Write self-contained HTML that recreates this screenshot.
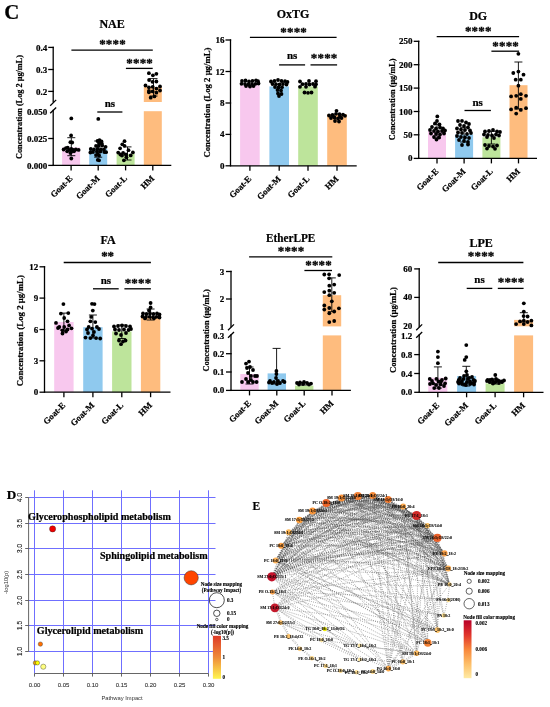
<!DOCTYPE html><html><head><meta charset="utf-8"><style>html,body{margin:0;padding:0;background:#fff;}svg{display:block;}</style></head><body>
<svg width="550" height="707" viewBox="0 0 550 707">
<rect width="550" height="707" fill="#fff"/>
<text x="11.65" y="18.60" font-size="20.8" text-anchor="middle" font-weight="bold" font-family='"Liberation Serif", "Times New Roman", serif' fill="#000" stroke="#000" stroke-width="0.22" >C</text>
<rect x="62.10" y="147.50" width="18.00" height="17.90" fill="#F8C8EE" />
<rect x="89.20" y="148.50" width="18.00" height="16.90" fill="#8FC9EE" />
<rect x="116.60" y="154.00" width="18.00" height="11.40" fill="#BDE49B" />
<rect x="143.80" y="87.00" width="18.00" height="15.00" fill="#FEBC7E" />
<rect x="143.80" y="111.20" width="18.00" height="54.20" fill="#FEBC7E" />
<line x1="71.30" y1="137.70" x2="71.30" y2="155.70" stroke="#000" stroke-width="0.9" />
<line x1="67.30" y1="137.70" x2="75.30" y2="137.70" stroke="#000" stroke-width="0.9" />
<line x1="67.30" y1="155.70" x2="75.30" y2="155.70" stroke="#000" stroke-width="0.9" />
<line x1="98.20" y1="141.00" x2="98.20" y2="157.20" stroke="#000" stroke-width="0.9" />
<line x1="94.20" y1="141.00" x2="102.20" y2="141.00" stroke="#000" stroke-width="0.9" />
<line x1="94.20" y1="157.20" x2="102.20" y2="157.20" stroke="#000" stroke-width="0.9" />
<line x1="127.50" y1="146.90" x2="127.50" y2="160.00" stroke="#000" stroke-width="0.9" />
<line x1="123.50" y1="146.90" x2="131.50" y2="146.90" stroke="#000" stroke-width="0.9" />
<line x1="123.50" y1="160.00" x2="131.50" y2="160.00" stroke="#000" stroke-width="0.9" />
<line x1="153.50" y1="78.60" x2="153.50" y2="96.00" stroke="#000" stroke-width="0.9" />
<line x1="149.50" y1="78.60" x2="157.50" y2="78.60" stroke="#000" stroke-width="0.9" />
<line x1="149.50" y1="96.00" x2="157.50" y2="96.00" stroke="#000" stroke-width="0.9" />
<circle cx="71.30" cy="118.40" r="1.9" fill="#000" stroke="none" stroke-width="0"/>
<circle cx="71.10" cy="135.40" r="1.9" fill="#000" stroke="none" stroke-width="0"/>
<circle cx="70.40" cy="142.20" r="1.9" fill="#000" stroke="none" stroke-width="0"/>
<circle cx="72.20" cy="142.50" r="1.9" fill="#000" stroke="none" stroke-width="0"/>
<circle cx="63.60" cy="149.50" r="1.9" fill="#000" stroke="none" stroke-width="0"/>
<circle cx="65.90" cy="148.10" r="1.9" fill="#000" stroke="none" stroke-width="0"/>
<circle cx="67.70" cy="147.70" r="1.9" fill="#000" stroke="none" stroke-width="0"/>
<circle cx="69.00" cy="149.90" r="1.9" fill="#000" stroke="none" stroke-width="0"/>
<circle cx="71.30" cy="149.00" r="1.9" fill="#000" stroke="none" stroke-width="0"/>
<circle cx="73.60" cy="149.90" r="1.9" fill="#000" stroke="none" stroke-width="0"/>
<circle cx="75.90" cy="149.50" r="1.9" fill="#000" stroke="none" stroke-width="0"/>
<circle cx="78.60" cy="149.90" r="1.9" fill="#000" stroke="none" stroke-width="0"/>
<circle cx="67.20" cy="151.30" r="1.9" fill="#000" stroke="none" stroke-width="0"/>
<circle cx="71.30" cy="151.70" r="1.9" fill="#000" stroke="none" stroke-width="0"/>
<circle cx="74.00" cy="151.30" r="1.9" fill="#000" stroke="none" stroke-width="0"/>
<circle cx="70.40" cy="153.10" r="1.9" fill="#000" stroke="none" stroke-width="0"/>
<circle cx="71.30" cy="158.50" r="1.9" fill="#000" stroke="none" stroke-width="0"/>
<circle cx="98.30" cy="118.90" r="1.9" fill="#000" stroke="none" stroke-width="0"/>
<circle cx="97.50" cy="141.00" r="1.9" fill="#000" stroke="none" stroke-width="0"/>
<circle cx="99.50" cy="140.20" r="1.9" fill="#000" stroke="none" stroke-width="0"/>
<circle cx="101.50" cy="141.50" r="1.9" fill="#000" stroke="none" stroke-width="0"/>
<circle cx="101.70" cy="143.30" r="1.9" fill="#000" stroke="none" stroke-width="0"/>
<circle cx="99.10" cy="143.70" r="1.9" fill="#000" stroke="none" stroke-width="0"/>
<circle cx="96.00" cy="145.90" r="1.9" fill="#000" stroke="none" stroke-width="0"/>
<circle cx="98.70" cy="145.90" r="1.9" fill="#000" stroke="none" stroke-width="0"/>
<circle cx="102.20" cy="145.50" r="1.9" fill="#000" stroke="none" stroke-width="0"/>
<circle cx="105.60" cy="146.80" r="1.9" fill="#000" stroke="none" stroke-width="0"/>
<circle cx="90.80" cy="149.00" r="1.9" fill="#000" stroke="none" stroke-width="0"/>
<circle cx="93.90" cy="149.40" r="1.9" fill="#000" stroke="none" stroke-width="0"/>
<circle cx="97.40" cy="149.00" r="1.9" fill="#000" stroke="none" stroke-width="0"/>
<circle cx="100.80" cy="149.40" r="1.9" fill="#000" stroke="none" stroke-width="0"/>
<circle cx="103.90" cy="149.40" r="1.9" fill="#000" stroke="none" stroke-width="0"/>
<circle cx="90.40" cy="152.50" r="1.9" fill="#000" stroke="none" stroke-width="0"/>
<circle cx="93.00" cy="152.00" r="1.9" fill="#000" stroke="none" stroke-width="0"/>
<circle cx="96.90" cy="151.60" r="1.9" fill="#000" stroke="none" stroke-width="0"/>
<circle cx="100.40" cy="151.60" r="1.9" fill="#000" stroke="none" stroke-width="0"/>
<circle cx="104.30" cy="152.00" r="1.9" fill="#000" stroke="none" stroke-width="0"/>
<circle cx="106.10" cy="152.20" r="1.9" fill="#000" stroke="none" stroke-width="0"/>
<circle cx="97.80" cy="154.20" r="1.9" fill="#000" stroke="none" stroke-width="0"/>
<circle cx="96.00" cy="155.10" r="1.9" fill="#000" stroke="none" stroke-width="0"/>
<circle cx="99.10" cy="155.50" r="1.9" fill="#000" stroke="none" stroke-width="0"/>
<circle cx="97.80" cy="159.90" r="1.9" fill="#000" stroke="none" stroke-width="0"/>
<circle cx="99.10" cy="160.30" r="1.9" fill="#000" stroke="none" stroke-width="0"/>
<circle cx="124.50" cy="141.20" r="1.9" fill="#000" stroke="none" stroke-width="0"/>
<circle cx="122.30" cy="144.30" r="1.9" fill="#000" stroke="none" stroke-width="0"/>
<circle cx="124.50" cy="145.80" r="1.9" fill="#000" stroke="none" stroke-width="0"/>
<circle cx="120.10" cy="148.30" r="1.9" fill="#000" stroke="none" stroke-width="0"/>
<circle cx="128.50" cy="150.20" r="1.9" fill="#000" stroke="none" stroke-width="0"/>
<circle cx="118.20" cy="152.60" r="1.9" fill="#000" stroke="none" stroke-width="0"/>
<circle cx="132.90" cy="152.40" r="1.9" fill="#000" stroke="none" stroke-width="0"/>
<circle cx="120.40" cy="154.50" r="1.9" fill="#000" stroke="none" stroke-width="0"/>
<circle cx="123.10" cy="152.90" r="1.9" fill="#000" stroke="none" stroke-width="0"/>
<circle cx="125.80" cy="154.50" r="1.9" fill="#000" stroke="none" stroke-width="0"/>
<circle cx="130.70" cy="155.40" r="1.9" fill="#000" stroke="none" stroke-width="0"/>
<circle cx="126.40" cy="157.30" r="1.9" fill="#000" stroke="none" stroke-width="0"/>
<circle cx="123.90" cy="160.30" r="1.9" fill="#000" stroke="none" stroke-width="0"/>
<circle cx="122.00" cy="155.60" r="1.9" fill="#000" stroke="none" stroke-width="0"/>
<circle cx="148.90" cy="73.20" r="1.9" fill="#000" stroke="none" stroke-width="0"/>
<circle cx="152.90" cy="75.30" r="1.9" fill="#000" stroke="none" stroke-width="0"/>
<circle cx="156.40" cy="73.80" r="1.9" fill="#000" stroke="none" stroke-width="0"/>
<circle cx="149.10" cy="80.00" r="1.9" fill="#000" stroke="none" stroke-width="0"/>
<circle cx="152.50" cy="81.80" r="1.9" fill="#000" stroke="none" stroke-width="0"/>
<circle cx="156.40" cy="81.50" r="1.9" fill="#000" stroke="none" stroke-width="0"/>
<circle cx="145.50" cy="85.50" r="1.9" fill="#000" stroke="none" stroke-width="0"/>
<circle cx="148.90" cy="87.30" r="1.9" fill="#000" stroke="none" stroke-width="0"/>
<circle cx="152.70" cy="86.80" r="1.9" fill="#000" stroke="none" stroke-width="0"/>
<circle cx="160.00" cy="86.40" r="1.9" fill="#000" stroke="none" stroke-width="0"/>
<circle cx="156.40" cy="88.60" r="1.9" fill="#000" stroke="none" stroke-width="0"/>
<circle cx="148.90" cy="90.90" r="1.9" fill="#000" stroke="none" stroke-width="0"/>
<circle cx="152.70" cy="91.40" r="1.9" fill="#000" stroke="none" stroke-width="0"/>
<circle cx="160.00" cy="90.50" r="1.9" fill="#000" stroke="none" stroke-width="0"/>
<circle cx="148.90" cy="92.30" r="1.9" fill="#000" stroke="none" stroke-width="0"/>
<circle cx="156.40" cy="92.70" r="1.9" fill="#000" stroke="none" stroke-width="0"/>
<circle cx="150.70" cy="97.70" r="1.9" fill="#000" stroke="none" stroke-width="0"/>
<circle cx="154.40" cy="96.40" r="1.9" fill="#000" stroke="none" stroke-width="0"/>
<line x1="53.20" y1="46.75" x2="53.20" y2="102.50" stroke="#000" stroke-width="1.3" />
<line x1="53.20" y1="109.75" x2="53.20" y2="165.40" stroke="#000" stroke-width="1.3" />
<line x1="50.20" y1="105.70" x2="56.20" y2="99.90" stroke="#000" stroke-width="1.3" />
<line x1="50.20" y1="113.30" x2="56.20" y2="107.50" stroke="#000" stroke-width="1.3" />
<line x1="48.20" y1="47.40" x2="53.85" y2="47.40" stroke="#000" stroke-width="1.3" />
<text x="47.20" y="51.20" font-size="9.0" text-anchor="end" font-weight="bold" font-family='"Liberation Serif", "Times New Roman", serif' fill="#000" stroke="#000" stroke-width="0.22" >0.4</text>
<line x1="48.20" y1="69.50" x2="53.85" y2="69.50" stroke="#000" stroke-width="1.3" />
<text x="47.20" y="73.30" font-size="9.0" text-anchor="end" font-weight="bold" font-family='"Liberation Serif", "Times New Roman", serif' fill="#000" stroke="#000" stroke-width="0.22" >0.3</text>
<line x1="48.20" y1="91.40" x2="53.85" y2="91.40" stroke="#000" stroke-width="1.3" />
<text x="47.20" y="95.20" font-size="9.0" text-anchor="end" font-weight="bold" font-family='"Liberation Serif", "Times New Roman", serif' fill="#000" stroke="#000" stroke-width="0.22" >0.2</text>
<text x="47.20" y="114.80" font-size="9.0" text-anchor="end" font-weight="bold" font-family='"Liberation Serif", "Times New Roman", serif' fill="#000" stroke="#000" stroke-width="0.22" >0.050</text>
<line x1="48.20" y1="138.50" x2="53.85" y2="138.50" stroke="#000" stroke-width="1.3" />
<text x="47.20" y="142.30" font-size="9.0" text-anchor="end" font-weight="bold" font-family='"Liberation Serif", "Times New Roman", serif' fill="#000" stroke="#000" stroke-width="0.22" >0.025</text>
<line x1="48.20" y1="165.40" x2="53.85" y2="165.40" stroke="#000" stroke-width="1.3" />
<text x="47.20" y="169.20" font-size="9.0" text-anchor="end" font-weight="bold" font-family='"Liberation Serif", "Times New Roman", serif' fill="#000" stroke="#000" stroke-width="0.22" >0.000</text>
<line x1="52.55" y1="165.40" x2="171.30" y2="165.40" stroke="#000" stroke-width="1.3" />
<line x1="71.10" y1="165.40" x2="71.10" y2="170.40" stroke="#000" stroke-width="1.3" />
<line x1="98.20" y1="165.40" x2="98.20" y2="170.40" stroke="#000" stroke-width="1.3" />
<line x1="125.60" y1="165.40" x2="125.60" y2="170.40" stroke="#000" stroke-width="1.3" />
<line x1="152.80" y1="165.40" x2="152.80" y2="170.40" stroke="#000" stroke-width="1.3" />
<text transform="translate(73.10,179.00) rotate(-45)" font-size="8.7" text-anchor="end" font-weight="bold" font-family='"Liberation Serif", "Times New Roman", serif' stroke="#000" stroke-width="0.22">Goat-E</text>
<text transform="translate(100.20,179.00) rotate(-45)" font-size="8.7" text-anchor="end" font-weight="bold" font-family='"Liberation Serif", "Times New Roman", serif' stroke="#000" stroke-width="0.22">Goat-M</text>
<text transform="translate(127.60,179.00) rotate(-45)" font-size="8.7" text-anchor="end" font-weight="bold" font-family='"Liberation Serif", "Times New Roman", serif' stroke="#000" stroke-width="0.22">Goat-L</text>
<text transform="translate(154.80,179.00) rotate(-45)" font-size="8.7" text-anchor="end" font-weight="bold" font-family='"Liberation Serif", "Times New Roman", serif' stroke="#000" stroke-width="0.22">HM</text>
<line x1="71.40" y1="50.10" x2="152.80" y2="50.10" stroke="#000" stroke-width="1.3" />
<text x="112.40" y="47.90" font-size="13.0" text-anchor="middle" font-weight="bold" font-family='"Liberation Serif", "Times New Roman", serif' fill="#000" stroke="#000" stroke-width="0.3" textLength="26.50" lengthAdjust="spacing" >****</text>
<line x1="125.90" y1="68.40" x2="152.70" y2="68.40" stroke="#000" stroke-width="1.3" />
<text x="139.60" y="66.80" font-size="13.0" text-anchor="middle" font-weight="bold" font-family='"Liberation Serif", "Times New Roman", serif' fill="#000" stroke="#000" stroke-width="0.3" textLength="26.50" lengthAdjust="spacing" >****</text>
<line x1="97.30" y1="112.00" x2="122.40" y2="112.00" stroke="#000" stroke-width="1.3" />
<text x="109.85" y="107.20" font-size="11" text-anchor="middle" font-weight="bold" font-family='"Liberation Serif", "Times New Roman", serif' fill="#000" stroke="#000" stroke-width="0.22" >ns</text>
<text x="112.10" y="27.70" font-size="12" text-anchor="middle" font-weight="bold" font-family='"Liberation Serif", "Times New Roman", serif' fill="#000" stroke="#000" stroke-width="0.22" >NAE</text>
<text transform="translate(22.32,107.00) rotate(-90)" font-size="8.4" text-anchor="middle" font-weight="bold" font-family='"Liberation Serif", "Times New Roman", serif' fill="#000" stroke="#000" stroke-width="0.22" textLength="104.00" lengthAdjust="spacingAndGlyphs" >Concentration (Log 2 μg/mL)</text>
<rect x="240.10" y="85.30" width="19.60" height="80.50" fill="#F8C8EE" />
<rect x="269.40" y="86.40" width="19.60" height="79.40" fill="#8FC9EE" />
<rect x="298.20" y="86.40" width="19.60" height="79.40" fill="#BDE49B" />
<rect x="327.20" y="114.20" width="19.60" height="51.60" fill="#FEBC7E" />
<circle cx="242.00" cy="81.00" r="1.9" fill="#000" stroke="none" stroke-width="0"/>
<circle cx="245.50" cy="80.50" r="1.9" fill="#000" stroke="none" stroke-width="0"/>
<circle cx="249.00" cy="81.50" r="1.9" fill="#000" stroke="none" stroke-width="0"/>
<circle cx="252.50" cy="80.80" r="1.9" fill="#000" stroke="none" stroke-width="0"/>
<circle cx="256.00" cy="80.30" r="1.9" fill="#000" stroke="none" stroke-width="0"/>
<circle cx="258.00" cy="81.20" r="1.9" fill="#000" stroke="none" stroke-width="0"/>
<circle cx="241.50" cy="83.80" r="1.9" fill="#000" stroke="none" stroke-width="0"/>
<circle cx="245.00" cy="84.00" r="1.9" fill="#000" stroke="none" stroke-width="0"/>
<circle cx="248.50" cy="84.50" r="1.9" fill="#000" stroke="none" stroke-width="0"/>
<circle cx="252.00" cy="84.00" r="1.9" fill="#000" stroke="none" stroke-width="0"/>
<circle cx="255.50" cy="83.80" r="1.9" fill="#000" stroke="none" stroke-width="0"/>
<circle cx="258.50" cy="83.50" r="1.9" fill="#000" stroke="none" stroke-width="0"/>
<circle cx="250.00" cy="86.50" r="1.9" fill="#000" stroke="none" stroke-width="0"/>
<circle cx="253.50" cy="86.00" r="1.9" fill="#000" stroke="none" stroke-width="0"/>
<circle cx="246.00" cy="86.00" r="1.9" fill="#000" stroke="none" stroke-width="0"/>
<circle cx="271.00" cy="81.50" r="1.9" fill="#000" stroke="none" stroke-width="0"/>
<circle cx="274.50" cy="81.00" r="1.9" fill="#000" stroke="none" stroke-width="0"/>
<circle cx="278.00" cy="80.00" r="1.9" fill="#000" stroke="none" stroke-width="0"/>
<circle cx="281.50" cy="81.00" r="1.9" fill="#000" stroke="none" stroke-width="0"/>
<circle cx="285.00" cy="81.20" r="1.9" fill="#000" stroke="none" stroke-width="0"/>
<circle cx="287.50" cy="82.00" r="1.9" fill="#000" stroke="none" stroke-width="0"/>
<circle cx="272.50" cy="84.00" r="1.9" fill="#000" stroke="none" stroke-width="0"/>
<circle cx="276.00" cy="84.20" r="1.9" fill="#000" stroke="none" stroke-width="0"/>
<circle cx="279.50" cy="84.50" r="1.9" fill="#000" stroke="none" stroke-width="0"/>
<circle cx="283.00" cy="84.00" r="1.9" fill="#000" stroke="none" stroke-width="0"/>
<circle cx="286.50" cy="84.50" r="1.9" fill="#000" stroke="none" stroke-width="0"/>
<circle cx="275.00" cy="87.00" r="1.9" fill="#000" stroke="none" stroke-width="0"/>
<circle cx="278.50" cy="87.50" r="1.9" fill="#000" stroke="none" stroke-width="0"/>
<circle cx="282.00" cy="87.20" r="1.9" fill="#000" stroke="none" stroke-width="0"/>
<circle cx="277.50" cy="90.00" r="1.9" fill="#000" stroke="none" stroke-width="0"/>
<circle cx="281.00" cy="90.50" r="1.9" fill="#000" stroke="none" stroke-width="0"/>
<circle cx="278.00" cy="93.50" r="1.9" fill="#000" stroke="none" stroke-width="0"/>
<circle cx="281.50" cy="94.00" r="1.9" fill="#000" stroke="none" stroke-width="0"/>
<circle cx="279.00" cy="96.00" r="1.9" fill="#000" stroke="none" stroke-width="0"/>
<circle cx="300.00" cy="81.50" r="1.9" fill="#000" stroke="none" stroke-width="0"/>
<circle cx="309.00" cy="81.00" r="1.9" fill="#000" stroke="none" stroke-width="0"/>
<circle cx="316.00" cy="81.20" r="1.9" fill="#000" stroke="none" stroke-width="0"/>
<circle cx="302.50" cy="84.20" r="1.9" fill="#000" stroke="none" stroke-width="0"/>
<circle cx="306.00" cy="84.00" r="1.9" fill="#000" stroke="none" stroke-width="0"/>
<circle cx="309.50" cy="84.50" r="1.9" fill="#000" stroke="none" stroke-width="0"/>
<circle cx="313.00" cy="84.00" r="1.9" fill="#000" stroke="none" stroke-width="0"/>
<circle cx="316.00" cy="84.30" r="1.9" fill="#000" stroke="none" stroke-width="0"/>
<circle cx="300.00" cy="86.80" r="1.9" fill="#000" stroke="none" stroke-width="0"/>
<circle cx="306.00" cy="86.80" r="1.9" fill="#000" stroke="none" stroke-width="0"/>
<circle cx="315.00" cy="86.70" r="1.9" fill="#000" stroke="none" stroke-width="0"/>
<circle cx="304.50" cy="92.50" r="1.9" fill="#000" stroke="none" stroke-width="0"/>
<circle cx="308.00" cy="92.80" r="1.9" fill="#000" stroke="none" stroke-width="0"/>
<circle cx="311.50" cy="92.50" r="1.9" fill="#000" stroke="none" stroke-width="0"/>
<circle cx="329.00" cy="115.50" r="1.9" fill="#000" stroke="none" stroke-width="0"/>
<circle cx="332.50" cy="114.80" r="1.9" fill="#000" stroke="none" stroke-width="0"/>
<circle cx="336.00" cy="113.80" r="1.9" fill="#000" stroke="none" stroke-width="0"/>
<circle cx="339.50" cy="114.20" r="1.9" fill="#000" stroke="none" stroke-width="0"/>
<circle cx="343.00" cy="114.60" r="1.9" fill="#000" stroke="none" stroke-width="0"/>
<circle cx="345.00" cy="115.80" r="1.9" fill="#000" stroke="none" stroke-width="0"/>
<circle cx="331.00" cy="118.00" r="1.9" fill="#000" stroke="none" stroke-width="0"/>
<circle cx="334.50" cy="117.50" r="1.9" fill="#000" stroke="none" stroke-width="0"/>
<circle cx="338.00" cy="118.50" r="1.9" fill="#000" stroke="none" stroke-width="0"/>
<circle cx="341.50" cy="118.00" r="1.9" fill="#000" stroke="none" stroke-width="0"/>
<circle cx="336.50" cy="110.80" r="1.9" fill="#000" stroke="none" stroke-width="0"/>
<circle cx="335.00" cy="121.00" r="1.9" fill="#000" stroke="none" stroke-width="0"/>
<circle cx="339.00" cy="121.50" r="1.9" fill="#000" stroke="none" stroke-width="0"/>
<circle cx="333.00" cy="116.00" r="1.9" fill="#000" stroke="none" stroke-width="0"/>
<circle cx="340.00" cy="116.50" r="1.9" fill="#000" stroke="none" stroke-width="0"/>
<line x1="230.50" y1="39.35" x2="230.50" y2="165.80" stroke="#000" stroke-width="1.3" />
<line x1="225.50" y1="40.00" x2="231.15" y2="40.00" stroke="#000" stroke-width="1.3" />
<text x="224.50" y="43.00" font-size="9.0" text-anchor="end" font-weight="bold" font-family='"Liberation Serif", "Times New Roman", serif' fill="#000" stroke="#000" stroke-width="0.22" >16</text>
<line x1="225.50" y1="71.50" x2="231.15" y2="71.50" stroke="#000" stroke-width="1.3" />
<text x="224.50" y="74.50" font-size="9.0" text-anchor="end" font-weight="bold" font-family='"Liberation Serif", "Times New Roman", serif' fill="#000" stroke="#000" stroke-width="0.22" >12</text>
<line x1="225.50" y1="103.00" x2="231.15" y2="103.00" stroke="#000" stroke-width="1.3" />
<text x="224.50" y="106.00" font-size="9.0" text-anchor="end" font-weight="bold" font-family='"Liberation Serif", "Times New Roman", serif' fill="#000" stroke="#000" stroke-width="0.22" >8</text>
<line x1="225.50" y1="134.40" x2="231.15" y2="134.40" stroke="#000" stroke-width="1.3" />
<text x="224.50" y="137.40" font-size="9.0" text-anchor="end" font-weight="bold" font-family='"Liberation Serif", "Times New Roman", serif' fill="#000" stroke="#000" stroke-width="0.22" >4</text>
<line x1="225.50" y1="165.80" x2="231.15" y2="165.80" stroke="#000" stroke-width="1.3" />
<text x="224.50" y="168.80" font-size="9.0" text-anchor="end" font-weight="bold" font-family='"Liberation Serif", "Times New Roman", serif' fill="#000" stroke="#000" stroke-width="0.22" >0</text>
<line x1="229.85" y1="165.80" x2="356.70" y2="165.80" stroke="#000" stroke-width="1.3" />
<line x1="249.90" y1="165.80" x2="249.90" y2="170.80" stroke="#000" stroke-width="1.3" />
<line x1="279.20" y1="165.80" x2="279.20" y2="170.80" stroke="#000" stroke-width="1.3" />
<line x1="308.00" y1="165.80" x2="308.00" y2="170.80" stroke="#000" stroke-width="1.3" />
<line x1="337.00" y1="165.80" x2="337.00" y2="170.80" stroke="#000" stroke-width="1.3" />
<text transform="translate(251.90,179.40) rotate(-45)" font-size="8.7" text-anchor="end" font-weight="bold" font-family='"Liberation Serif", "Times New Roman", serif' stroke="#000" stroke-width="0.22">Goat-E</text>
<text transform="translate(281.20,179.40) rotate(-45)" font-size="8.7" text-anchor="end" font-weight="bold" font-family='"Liberation Serif", "Times New Roman", serif' stroke="#000" stroke-width="0.22">Goat-M</text>
<text transform="translate(310.00,179.40) rotate(-45)" font-size="8.7" text-anchor="end" font-weight="bold" font-family='"Liberation Serif", "Times New Roman", serif' stroke="#000" stroke-width="0.22">Goat-L</text>
<text transform="translate(339.00,179.40) rotate(-45)" font-size="8.7" text-anchor="end" font-weight="bold" font-family='"Liberation Serif", "Times New Roman", serif' stroke="#000" stroke-width="0.22">HM</text>
<line x1="249.90" y1="37.40" x2="336.60" y2="37.40" stroke="#000" stroke-width="1.3" />
<text x="293.55" y="35.60" font-size="13.0" text-anchor="middle" font-weight="bold" font-family='"Liberation Serif", "Times New Roman", serif' fill="#000" stroke="#000" stroke-width="0.3" textLength="26.50" lengthAdjust="spacing" >****</text>
<line x1="279.10" y1="64.90" x2="305.10" y2="64.90" stroke="#000" stroke-width="1.3" />
<text x="292.10" y="59.10" font-size="11" text-anchor="middle" font-weight="bold" font-family='"Liberation Serif", "Times New Roman", serif' fill="#000" stroke="#000" stroke-width="0.22" >ns</text>
<line x1="310.50" y1="64.90" x2="337.10" y2="64.90" stroke="#000" stroke-width="1.3" />
<text x="324.10" y="61.60" font-size="13.0" text-anchor="middle" font-weight="bold" font-family='"Liberation Serif", "Times New Roman", serif' fill="#000" stroke="#000" stroke-width="0.3" textLength="26.50" lengthAdjust="spacing" >****</text>
<text x="293.10" y="17.60" font-size="12" text-anchor="middle" font-weight="bold" font-family='"Liberation Serif", "Times New Roman", serif' fill="#000" stroke="#000" stroke-width="0.22" >OxTG</text>
<text transform="translate(210.02,102.60) rotate(-90)" font-size="8.4" text-anchor="middle" font-weight="bold" font-family='"Liberation Serif", "Times New Roman", serif' fill="#000" stroke="#000" stroke-width="0.22" textLength="110.00" lengthAdjust="spacingAndGlyphs" >Concentration (Log 2 μg/mL)</text>
<rect x="428.00" y="130.90" width="18.00" height="27.50" fill="#F8C8EE" />
<rect x="455.10" y="134.50" width="18.00" height="23.90" fill="#8FC9EE" />
<rect x="482.40" y="137.30" width="18.00" height="21.10" fill="#BDE49B" />
<rect x="509.50" y="85.20" width="18.00" height="73.20" fill="#FEBC7E" />
<line x1="437.00" y1="124.20" x2="437.00" y2="138.00" stroke="#000" stroke-width="0.9" />
<line x1="433.00" y1="124.20" x2="441.00" y2="124.20" stroke="#000" stroke-width="0.9" />
<line x1="433.00" y1="138.00" x2="441.00" y2="138.00" stroke="#000" stroke-width="0.9" />
<line x1="464.10" y1="127.30" x2="464.10" y2="142.00" stroke="#000" stroke-width="0.9" />
<line x1="460.10" y1="127.30" x2="468.10" y2="127.30" stroke="#000" stroke-width="0.9" />
<line x1="460.10" y1="142.00" x2="468.10" y2="142.00" stroke="#000" stroke-width="0.9" />
<line x1="491.40" y1="131.30" x2="491.40" y2="144.00" stroke="#000" stroke-width="0.9" />
<line x1="487.40" y1="131.30" x2="495.40" y2="131.30" stroke="#000" stroke-width="0.9" />
<line x1="487.40" y1="144.00" x2="495.40" y2="144.00" stroke="#000" stroke-width="0.9" />
<line x1="518.40" y1="62.00" x2="518.40" y2="109.00" stroke="#000" stroke-width="0.9" />
<line x1="514.40" y1="62.00" x2="522.40" y2="62.00" stroke="#000" stroke-width="0.9" />
<line x1="514.40" y1="109.00" x2="522.40" y2="109.00" stroke="#000" stroke-width="0.9" />
<circle cx="437.30" cy="116.40" r="1.9" fill="#000" stroke="none" stroke-width="0"/>
<circle cx="437.00" cy="121.00" r="1.9" fill="#000" stroke="none" stroke-width="0"/>
<circle cx="435.00" cy="123.50" r="1.9" fill="#000" stroke="none" stroke-width="0"/>
<circle cx="439.50" cy="124.50" r="1.9" fill="#000" stroke="none" stroke-width="0"/>
<circle cx="432.00" cy="127.00" r="1.9" fill="#000" stroke="none" stroke-width="0"/>
<circle cx="436.00" cy="128.50" r="1.9" fill="#000" stroke="none" stroke-width="0"/>
<circle cx="440.00" cy="127.50" r="1.9" fill="#000" stroke="none" stroke-width="0"/>
<circle cx="443.00" cy="128.50" r="1.9" fill="#000" stroke="none" stroke-width="0"/>
<circle cx="430.00" cy="130.00" r="1.9" fill="#000" stroke="none" stroke-width="0"/>
<circle cx="434.00" cy="131.00" r="1.9" fill="#000" stroke="none" stroke-width="0"/>
<circle cx="438.00" cy="131.50" r="1.9" fill="#000" stroke="none" stroke-width="0"/>
<circle cx="442.00" cy="131.00" r="1.9" fill="#000" stroke="none" stroke-width="0"/>
<circle cx="445.00" cy="130.50" r="1.9" fill="#000" stroke="none" stroke-width="0"/>
<circle cx="431.00" cy="133.50" r="1.9" fill="#000" stroke="none" stroke-width="0"/>
<circle cx="436.00" cy="134.00" r="1.9" fill="#000" stroke="none" stroke-width="0"/>
<circle cx="440.00" cy="134.50" r="1.9" fill="#000" stroke="none" stroke-width="0"/>
<circle cx="444.00" cy="133.50" r="1.9" fill="#000" stroke="none" stroke-width="0"/>
<circle cx="434.00" cy="137.00" r="1.9" fill="#000" stroke="none" stroke-width="0"/>
<circle cx="439.00" cy="137.50" r="1.9" fill="#000" stroke="none" stroke-width="0"/>
<circle cx="436.50" cy="139.60" r="1.9" fill="#000" stroke="none" stroke-width="0"/>
<circle cx="458.00" cy="121.00" r="1.9" fill="#000" stroke="none" stroke-width="0"/>
<circle cx="462.00" cy="120.90" r="1.9" fill="#000" stroke="none" stroke-width="0"/>
<circle cx="466.00" cy="122.50" r="1.9" fill="#000" stroke="none" stroke-width="0"/>
<circle cx="469.00" cy="124.00" r="1.9" fill="#000" stroke="none" stroke-width="0"/>
<circle cx="460.00" cy="125.00" r="1.9" fill="#000" stroke="none" stroke-width="0"/>
<circle cx="464.00" cy="126.00" r="1.9" fill="#000" stroke="none" stroke-width="0"/>
<circle cx="468.00" cy="127.50" r="1.9" fill="#000" stroke="none" stroke-width="0"/>
<circle cx="457.00" cy="128.50" r="1.9" fill="#000" stroke="none" stroke-width="0"/>
<circle cx="461.00" cy="129.50" r="1.9" fill="#000" stroke="none" stroke-width="0"/>
<circle cx="465.00" cy="130.00" r="1.9" fill="#000" stroke="none" stroke-width="0"/>
<circle cx="470.00" cy="130.50" r="1.9" fill="#000" stroke="none" stroke-width="0"/>
<circle cx="458.00" cy="132.50" r="1.9" fill="#000" stroke="none" stroke-width="0"/>
<circle cx="462.00" cy="133.00" r="1.9" fill="#000" stroke="none" stroke-width="0"/>
<circle cx="467.00" cy="134.00" r="1.9" fill="#000" stroke="none" stroke-width="0"/>
<circle cx="471.00" cy="133.00" r="1.9" fill="#000" stroke="none" stroke-width="0"/>
<circle cx="457.00" cy="136.00" r="1.9" fill="#000" stroke="none" stroke-width="0"/>
<circle cx="461.00" cy="137.00" r="1.9" fill="#000" stroke="none" stroke-width="0"/>
<circle cx="465.00" cy="137.50" r="1.9" fill="#000" stroke="none" stroke-width="0"/>
<circle cx="469.00" cy="138.00" r="1.9" fill="#000" stroke="none" stroke-width="0"/>
<circle cx="459.00" cy="140.00" r="1.9" fill="#000" stroke="none" stroke-width="0"/>
<circle cx="464.00" cy="141.00" r="1.9" fill="#000" stroke="none" stroke-width="0"/>
<circle cx="468.00" cy="142.00" r="1.9" fill="#000" stroke="none" stroke-width="0"/>
<circle cx="462.00" cy="145.00" r="1.9" fill="#000" stroke="none" stroke-width="0"/>
<circle cx="468.00" cy="144.50" r="1.9" fill="#000" stroke="none" stroke-width="0"/>
<circle cx="485.00" cy="131.50" r="1.9" fill="#000" stroke="none" stroke-width="0"/>
<circle cx="489.00" cy="131.00" r="1.9" fill="#000" stroke="none" stroke-width="0"/>
<circle cx="493.00" cy="130.00" r="1.9" fill="#000" stroke="none" stroke-width="0"/>
<circle cx="497.00" cy="131.50" r="1.9" fill="#000" stroke="none" stroke-width="0"/>
<circle cx="500.00" cy="132.00" r="1.9" fill="#000" stroke="none" stroke-width="0"/>
<circle cx="484.00" cy="134.50" r="1.9" fill="#000" stroke="none" stroke-width="0"/>
<circle cx="488.00" cy="135.00" r="1.9" fill="#000" stroke="none" stroke-width="0"/>
<circle cx="492.00" cy="135.50" r="1.9" fill="#000" stroke="none" stroke-width="0"/>
<circle cx="496.00" cy="134.50" r="1.9" fill="#000" stroke="none" stroke-width="0"/>
<circle cx="499.00" cy="135.50" r="1.9" fill="#000" stroke="none" stroke-width="0"/>
<circle cx="487.00" cy="137.00" r="1.9" fill="#000" stroke="none" stroke-width="0"/>
<circle cx="494.00" cy="138.00" r="1.9" fill="#000" stroke="none" stroke-width="0"/>
<circle cx="485.00" cy="145.00" r="1.9" fill="#000" stroke="none" stroke-width="0"/>
<circle cx="489.00" cy="146.00" r="1.9" fill="#000" stroke="none" stroke-width="0"/>
<circle cx="493.00" cy="146.50" r="1.9" fill="#000" stroke="none" stroke-width="0"/>
<circle cx="497.00" cy="145.50" r="1.9" fill="#000" stroke="none" stroke-width="0"/>
<circle cx="487.00" cy="148.60" r="1.9" fill="#000" stroke="none" stroke-width="0"/>
<circle cx="495.00" cy="148.80" r="1.9" fill="#000" stroke="none" stroke-width="0"/>
<circle cx="518.40" cy="53.80" r="1.9" fill="#000" stroke="none" stroke-width="0"/>
<circle cx="513.30" cy="73.00" r="1.9" fill="#000" stroke="none" stroke-width="0"/>
<circle cx="518.40" cy="71.60" r="1.9" fill="#000" stroke="none" stroke-width="0"/>
<circle cx="523.50" cy="74.70" r="1.9" fill="#000" stroke="none" stroke-width="0"/>
<circle cx="515.70" cy="79.70" r="1.9" fill="#000" stroke="none" stroke-width="0"/>
<circle cx="520.80" cy="79.70" r="1.9" fill="#000" stroke="none" stroke-width="0"/>
<circle cx="518.40" cy="85.70" r="1.9" fill="#000" stroke="none" stroke-width="0"/>
<circle cx="511.10" cy="96.40" r="1.9" fill="#000" stroke="none" stroke-width="0"/>
<circle cx="516.20" cy="95.80" r="1.9" fill="#000" stroke="none" stroke-width="0"/>
<circle cx="520.80" cy="94.20" r="1.9" fill="#000" stroke="none" stroke-width="0"/>
<circle cx="526.00" cy="95.80" r="1.9" fill="#000" stroke="none" stroke-width="0"/>
<circle cx="520.80" cy="98.90" r="1.9" fill="#000" stroke="none" stroke-width="0"/>
<circle cx="511.10" cy="109.40" r="1.9" fill="#000" stroke="none" stroke-width="0"/>
<circle cx="516.20" cy="107.70" r="1.9" fill="#000" stroke="none" stroke-width="0"/>
<circle cx="520.80" cy="109.90" r="1.9" fill="#000" stroke="none" stroke-width="0"/>
<circle cx="526.00" cy="108.20" r="1.9" fill="#000" stroke="none" stroke-width="0"/>
<circle cx="516.20" cy="113.60" r="1.9" fill="#000" stroke="none" stroke-width="0"/>
<line x1="418.70" y1="40.65" x2="418.70" y2="158.40" stroke="#000" stroke-width="1.3" />
<line x1="413.70" y1="41.30" x2="419.35" y2="41.30" stroke="#000" stroke-width="1.3" />
<text x="412.40" y="44.30" font-size="9.0" text-anchor="end" font-weight="bold" font-family='"Liberation Serif", "Times New Roman", serif' fill="#000" stroke="#000" stroke-width="0.22" >250</text>
<line x1="413.70" y1="64.70" x2="419.35" y2="64.70" stroke="#000" stroke-width="1.3" />
<text x="412.40" y="67.70" font-size="9.0" text-anchor="end" font-weight="bold" font-family='"Liberation Serif", "Times New Roman", serif' fill="#000" stroke="#000" stroke-width="0.22" >200</text>
<line x1="413.70" y1="88.10" x2="419.35" y2="88.10" stroke="#000" stroke-width="1.3" />
<text x="412.40" y="91.10" font-size="9.0" text-anchor="end" font-weight="bold" font-family='"Liberation Serif", "Times New Roman", serif' fill="#000" stroke="#000" stroke-width="0.22" >150</text>
<line x1="413.70" y1="111.50" x2="419.35" y2="111.50" stroke="#000" stroke-width="1.3" />
<text x="412.40" y="114.50" font-size="9.0" text-anchor="end" font-weight="bold" font-family='"Liberation Serif", "Times New Roman", serif' fill="#000" stroke="#000" stroke-width="0.22" >100</text>
<line x1="413.70" y1="134.80" x2="419.35" y2="134.80" stroke="#000" stroke-width="1.3" />
<text x="412.40" y="137.80" font-size="9.0" text-anchor="end" font-weight="bold" font-family='"Liberation Serif", "Times New Roman", serif' fill="#000" stroke="#000" stroke-width="0.22" >50</text>
<line x1="413.70" y1="158.40" x2="419.35" y2="158.40" stroke="#000" stroke-width="1.3" />
<text x="412.40" y="161.40" font-size="9.0" text-anchor="end" font-weight="bold" font-family='"Liberation Serif", "Times New Roman", serif' fill="#000" stroke="#000" stroke-width="0.22" >0</text>
<line x1="418.05" y1="158.40" x2="537.00" y2="158.40" stroke="#000" stroke-width="1.3" />
<line x1="437.00" y1="158.40" x2="437.00" y2="163.40" stroke="#000" stroke-width="1.3" />
<line x1="464.10" y1="158.40" x2="464.10" y2="163.40" stroke="#000" stroke-width="1.3" />
<line x1="491.40" y1="158.40" x2="491.40" y2="163.40" stroke="#000" stroke-width="1.3" />
<line x1="518.50" y1="158.40" x2="518.50" y2="163.40" stroke="#000" stroke-width="1.3" />
<text transform="translate(439.00,172.00) rotate(-45)" font-size="8.7" text-anchor="end" font-weight="bold" font-family='"Liberation Serif", "Times New Roman", serif' stroke="#000" stroke-width="0.22">Goat-E</text>
<text transform="translate(466.10,172.00) rotate(-45)" font-size="8.7" text-anchor="end" font-weight="bold" font-family='"Liberation Serif", "Times New Roman", serif' stroke="#000" stroke-width="0.22">Goat-M</text>
<text transform="translate(493.40,172.00) rotate(-45)" font-size="8.7" text-anchor="end" font-weight="bold" font-family='"Liberation Serif", "Times New Roman", serif' stroke="#000" stroke-width="0.22">Goat-L</text>
<text transform="translate(520.50,172.00) rotate(-45)" font-size="8.7" text-anchor="end" font-weight="bold" font-family='"Liberation Serif", "Times New Roman", serif' stroke="#000" stroke-width="0.22">HM</text>
<line x1="436.70" y1="36.70" x2="519.10" y2="36.70" stroke="#000" stroke-width="1.3" />
<text x="478.20" y="35.10" font-size="13.0" text-anchor="middle" font-weight="bold" font-family='"Liberation Serif", "Times New Roman", serif' fill="#000" stroke="#000" stroke-width="0.3" textLength="26.50" lengthAdjust="spacing" >****</text>
<line x1="491.40" y1="51.20" x2="519.10" y2="51.20" stroke="#000" stroke-width="1.3" />
<text x="505.55" y="49.60" font-size="13.0" text-anchor="middle" font-weight="bold" font-family='"Liberation Serif", "Times New Roman", serif' fill="#000" stroke="#000" stroke-width="0.3" textLength="26.50" lengthAdjust="spacing" >****</text>
<line x1="464.50" y1="110.50" x2="490.90" y2="110.50" stroke="#000" stroke-width="1.3" />
<text x="477.70" y="105.50" font-size="11" text-anchor="middle" font-weight="bold" font-family='"Liberation Serif", "Times New Roman", serif' fill="#000" stroke="#000" stroke-width="0.22" >ns</text>
<text x="478.20" y="19.70" font-size="12" text-anchor="middle" font-weight="bold" font-family='"Liberation Serif", "Times New Roman", serif' fill="#000" stroke="#000" stroke-width="0.22" >DG</text>
<text transform="translate(395.12,99.30) rotate(-90)" font-size="8.4" text-anchor="middle" font-weight="bold" font-family='"Liberation Serif", "Times New Roman", serif' fill="#000" stroke="#000" stroke-width="0.22" textLength="81.80" lengthAdjust="spacingAndGlyphs" >Concentration (μg/mL)</text>
<rect x="54.20" y="322.00" width="19.40" height="70.20" fill="#F8C8EE" />
<rect x="83.20" y="327.20" width="19.40" height="65.00" fill="#8FC9EE" />
<rect x="112.10" y="331.40" width="19.40" height="60.80" fill="#BDE49B" />
<rect x="140.90" y="316.50" width="19.40" height="75.70" fill="#FEBC7E" />
<line x1="63.90" y1="313.10" x2="63.90" y2="330.00" stroke="#000" stroke-width="0.9" />
<line x1="59.90" y1="313.10" x2="67.90" y2="313.10" stroke="#000" stroke-width="0.9" />
<line x1="59.90" y1="330.00" x2="67.90" y2="330.00" stroke="#000" stroke-width="0.9" />
<line x1="92.90" y1="315.00" x2="92.90" y2="338.00" stroke="#000" stroke-width="0.9" />
<line x1="88.90" y1="315.00" x2="96.90" y2="315.00" stroke="#000" stroke-width="0.9" />
<line x1="88.90" y1="338.00" x2="96.90" y2="338.00" stroke="#000" stroke-width="0.9" />
<line x1="121.80" y1="325.00" x2="121.80" y2="338.50" stroke="#000" stroke-width="0.9" />
<line x1="117.80" y1="325.00" x2="125.80" y2="325.00" stroke="#000" stroke-width="0.9" />
<line x1="117.80" y1="338.50" x2="125.80" y2="338.50" stroke="#000" stroke-width="0.9" />
<line x1="150.60" y1="309.00" x2="150.60" y2="320.00" stroke="#000" stroke-width="0.9" />
<line x1="146.60" y1="309.00" x2="154.60" y2="309.00" stroke="#000" stroke-width="0.9" />
<line x1="146.60" y1="320.00" x2="154.60" y2="320.00" stroke="#000" stroke-width="0.9" />
<circle cx="63.40" cy="304.10" r="1.9" fill="#000" stroke="none" stroke-width="0"/>
<circle cx="60.90" cy="313.60" r="1.9" fill="#000" stroke="none" stroke-width="0"/>
<circle cx="68.30" cy="313.10" r="1.9" fill="#000" stroke="none" stroke-width="0"/>
<circle cx="64.20" cy="318.00" r="1.9" fill="#000" stroke="none" stroke-width="0"/>
<circle cx="67.50" cy="321.30" r="1.9" fill="#000" stroke="none" stroke-width="0"/>
<circle cx="56.00" cy="322.90" r="1.9" fill="#000" stroke="none" stroke-width="0"/>
<circle cx="59.30" cy="327.00" r="1.9" fill="#000" stroke="none" stroke-width="0"/>
<circle cx="64.20" cy="327.00" r="1.9" fill="#000" stroke="none" stroke-width="0"/>
<circle cx="69.10" cy="325.40" r="1.9" fill="#000" stroke="none" stroke-width="0"/>
<circle cx="71.50" cy="328.30" r="1.9" fill="#000" stroke="none" stroke-width="0"/>
<circle cx="62.50" cy="330.30" r="1.9" fill="#000" stroke="none" stroke-width="0"/>
<circle cx="67.50" cy="329.50" r="1.9" fill="#000" stroke="none" stroke-width="0"/>
<circle cx="62.50" cy="333.50" r="1.9" fill="#000" stroke="none" stroke-width="0"/>
<circle cx="58.00" cy="328.00" r="1.9" fill="#000" stroke="none" stroke-width="0"/>
<circle cx="66.00" cy="331.50" r="1.9" fill="#000" stroke="none" stroke-width="0"/>
<circle cx="92.00" cy="303.80" r="1.9" fill="#000" stroke="none" stroke-width="0"/>
<circle cx="94.50" cy="304.10" r="1.9" fill="#000" stroke="none" stroke-width="0"/>
<circle cx="92.80" cy="310.60" r="1.9" fill="#000" stroke="none" stroke-width="0"/>
<circle cx="91.20" cy="316.90" r="1.9" fill="#000" stroke="none" stroke-width="0"/>
<circle cx="90.40" cy="321.30" r="1.9" fill="#000" stroke="none" stroke-width="0"/>
<circle cx="95.30" cy="322.10" r="1.9" fill="#000" stroke="none" stroke-width="0"/>
<circle cx="88.70" cy="327.00" r="1.9" fill="#000" stroke="none" stroke-width="0"/>
<circle cx="92.00" cy="328.60" r="1.9" fill="#000" stroke="none" stroke-width="0"/>
<circle cx="96.90" cy="327.00" r="1.9" fill="#000" stroke="none" stroke-width="0"/>
<circle cx="85.50" cy="337.60" r="1.9" fill="#000" stroke="none" stroke-width="0"/>
<circle cx="90.40" cy="338.10" r="1.9" fill="#000" stroke="none" stroke-width="0"/>
<circle cx="96.10" cy="338.10" r="1.9" fill="#000" stroke="none" stroke-width="0"/>
<circle cx="100.20" cy="338.50" r="1.9" fill="#000" stroke="none" stroke-width="0"/>
<circle cx="88.00" cy="333.00" r="1.9" fill="#000" stroke="none" stroke-width="0"/>
<circle cx="94.00" cy="332.00" r="1.9" fill="#000" stroke="none" stroke-width="0"/>
<circle cx="99.00" cy="329.00" r="1.9" fill="#000" stroke="none" stroke-width="0"/>
<circle cx="87.00" cy="329.50" r="1.9" fill="#000" stroke="none" stroke-width="0"/>
<circle cx="93.00" cy="335.50" r="1.9" fill="#000" stroke="none" stroke-width="0"/>
<circle cx="114.00" cy="326.50" r="1.9" fill="#000" stroke="none" stroke-width="0"/>
<circle cx="118.00" cy="326.00" r="1.9" fill="#000" stroke="none" stroke-width="0"/>
<circle cx="122.00" cy="325.50" r="1.9" fill="#000" stroke="none" stroke-width="0"/>
<circle cx="126.00" cy="326.00" r="1.9" fill="#000" stroke="none" stroke-width="0"/>
<circle cx="130.00" cy="326.50" r="1.9" fill="#000" stroke="none" stroke-width="0"/>
<circle cx="115.00" cy="329.50" r="1.9" fill="#000" stroke="none" stroke-width="0"/>
<circle cx="119.00" cy="330.00" r="1.9" fill="#000" stroke="none" stroke-width="0"/>
<circle cx="124.00" cy="329.50" r="1.9" fill="#000" stroke="none" stroke-width="0"/>
<circle cx="128.50" cy="330.00" r="1.9" fill="#000" stroke="none" stroke-width="0"/>
<circle cx="131.00" cy="329.00" r="1.9" fill="#000" stroke="none" stroke-width="0"/>
<circle cx="116.00" cy="333.50" r="1.9" fill="#000" stroke="none" stroke-width="0"/>
<circle cx="121.00" cy="335.00" r="1.9" fill="#000" stroke="none" stroke-width="0"/>
<circle cx="126.00" cy="333.00" r="1.9" fill="#000" stroke="none" stroke-width="0"/>
<circle cx="119.00" cy="340.50" r="1.9" fill="#000" stroke="none" stroke-width="0"/>
<circle cx="123.00" cy="341.50" r="1.9" fill="#000" stroke="none" stroke-width="0"/>
<circle cx="121.00" cy="344.20" r="1.9" fill="#000" stroke="none" stroke-width="0"/>
<circle cx="125.50" cy="340.50" r="1.9" fill="#000" stroke="none" stroke-width="0"/>
<circle cx="150.60" cy="303.00" r="1.9" fill="#000" stroke="none" stroke-width="0"/>
<circle cx="150.60" cy="307.50" r="1.9" fill="#000" stroke="none" stroke-width="0"/>
<circle cx="149.00" cy="310.50" r="1.9" fill="#000" stroke="none" stroke-width="0"/>
<circle cx="143.00" cy="313.50" r="1.9" fill="#000" stroke="none" stroke-width="0"/>
<circle cx="146.50" cy="314.00" r="1.9" fill="#000" stroke="none" stroke-width="0"/>
<circle cx="150.00" cy="313.50" r="1.9" fill="#000" stroke="none" stroke-width="0"/>
<circle cx="153.50" cy="314.00" r="1.9" fill="#000" stroke="none" stroke-width="0"/>
<circle cx="157.00" cy="313.50" r="1.9" fill="#000" stroke="none" stroke-width="0"/>
<circle cx="159.50" cy="314.50" r="1.9" fill="#000" stroke="none" stroke-width="0"/>
<circle cx="142.50" cy="316.50" r="1.9" fill="#000" stroke="none" stroke-width="0"/>
<circle cx="146.00" cy="317.00" r="1.9" fill="#000" stroke="none" stroke-width="0"/>
<circle cx="149.50" cy="316.80" r="1.9" fill="#000" stroke="none" stroke-width="0"/>
<circle cx="153.00" cy="317.20" r="1.9" fill="#000" stroke="none" stroke-width="0"/>
<circle cx="156.50" cy="316.80" r="1.9" fill="#000" stroke="none" stroke-width="0"/>
<circle cx="159.50" cy="317.50" r="1.9" fill="#000" stroke="none" stroke-width="0"/>
<circle cx="145.00" cy="318.40" r="1.9" fill="#000" stroke="none" stroke-width="0"/>
<circle cx="154.00" cy="318.30" r="1.9" fill="#000" stroke="none" stroke-width="0"/>
<line x1="44.50" y1="266.15" x2="44.50" y2="392.20" stroke="#000" stroke-width="1.3" />
<line x1="39.50" y1="266.80" x2="45.15" y2="266.80" stroke="#000" stroke-width="1.3" />
<text x="38.30" y="269.80" font-size="9.0" text-anchor="end" font-weight="bold" font-family='"Liberation Serif", "Times New Roman", serif' fill="#000" stroke="#000" stroke-width="0.22" >12</text>
<line x1="39.50" y1="298.10" x2="45.15" y2="298.10" stroke="#000" stroke-width="1.3" />
<text x="38.30" y="301.10" font-size="9.0" text-anchor="end" font-weight="bold" font-family='"Liberation Serif", "Times New Roman", serif' fill="#000" stroke="#000" stroke-width="0.22" >9</text>
<line x1="39.50" y1="329.50" x2="45.15" y2="329.50" stroke="#000" stroke-width="1.3" />
<text x="38.30" y="332.50" font-size="9.0" text-anchor="end" font-weight="bold" font-family='"Liberation Serif", "Times New Roman", serif' fill="#000" stroke="#000" stroke-width="0.22" >6</text>
<line x1="39.50" y1="360.80" x2="45.15" y2="360.80" stroke="#000" stroke-width="1.3" />
<text x="38.30" y="363.80" font-size="9.0" text-anchor="end" font-weight="bold" font-family='"Liberation Serif", "Times New Roman", serif' fill="#000" stroke="#000" stroke-width="0.22" >3</text>
<line x1="39.50" y1="392.20" x2="45.15" y2="392.20" stroke="#000" stroke-width="1.3" />
<text x="38.30" y="395.20" font-size="9.0" text-anchor="end" font-weight="bold" font-family='"Liberation Serif", "Times New Roman", serif' fill="#000" stroke="#000" stroke-width="0.22" >0</text>
<line x1="43.85" y1="392.20" x2="170.50" y2="392.20" stroke="#000" stroke-width="1.3" />
<line x1="63.90" y1="392.20" x2="63.90" y2="397.20" stroke="#000" stroke-width="1.3" />
<line x1="92.90" y1="392.20" x2="92.90" y2="397.20" stroke="#000" stroke-width="1.3" />
<line x1="121.80" y1="392.20" x2="121.80" y2="397.20" stroke="#000" stroke-width="1.3" />
<line x1="150.60" y1="392.20" x2="150.60" y2="397.20" stroke="#000" stroke-width="1.3" />
<text transform="translate(65.90,405.80) rotate(-45)" font-size="8.7" text-anchor="end" font-weight="bold" font-family='"Liberation Serif", "Times New Roman", serif' stroke="#000" stroke-width="0.22">Goat-E</text>
<text transform="translate(94.90,405.80) rotate(-45)" font-size="8.7" text-anchor="end" font-weight="bold" font-family='"Liberation Serif", "Times New Roman", serif' stroke="#000" stroke-width="0.22">Goat-M</text>
<text transform="translate(123.80,405.80) rotate(-45)" font-size="8.7" text-anchor="end" font-weight="bold" font-family='"Liberation Serif", "Times New Roman", serif' stroke="#000" stroke-width="0.22">Goat-L</text>
<text transform="translate(152.60,405.80) rotate(-45)" font-size="8.7" text-anchor="end" font-weight="bold" font-family='"Liberation Serif", "Times New Roman", serif' stroke="#000" stroke-width="0.22">HM</text>
<line x1="63.70" y1="262.50" x2="150.90" y2="262.50" stroke="#000" stroke-width="1.3" />
<text x="107.60" y="259.60" font-size="13.0" text-anchor="middle" font-weight="bold" font-family='"Liberation Serif", "Times New Roman", serif' fill="#000" stroke="#000" stroke-width="0.3" textLength="12.80" lengthAdjust="spacing" >**</text>
<line x1="93.00" y1="288.80" x2="118.70" y2="288.80" stroke="#000" stroke-width="1.3" />
<text x="105.85" y="283.70" font-size="11" text-anchor="middle" font-weight="bold" font-family='"Liberation Serif", "Times New Roman", serif' fill="#000" stroke="#000" stroke-width="0.22" >ns</text>
<line x1="124.40" y1="288.80" x2="150.90" y2="288.80" stroke="#000" stroke-width="1.3" />
<text x="137.95" y="286.80" font-size="13.0" text-anchor="middle" font-weight="bold" font-family='"Liberation Serif", "Times New Roman", serif' fill="#000" stroke="#000" stroke-width="0.3" textLength="26.50" lengthAdjust="spacing" >****</text>
<text x="108.00" y="243.50" font-size="12" text-anchor="middle" font-weight="bold" font-family='"Liberation Serif", "Times New Roman", serif' fill="#000" stroke="#000" stroke-width="0.22" >FA</text>
<text transform="translate(23.22,330.70) rotate(-90)" font-size="8.4" text-anchor="middle" font-weight="bold" font-family='"Liberation Serif", "Times New Roman", serif' fill="#000" stroke="#000" stroke-width="0.22" textLength="111.20" lengthAdjust="spacingAndGlyphs" >Concentration (Log 2 μg/mL)</text>
<rect x="240.30" y="374.00" width="18.40" height="16.40" fill="#F8C8EE" />
<rect x="267.60" y="373.40" width="18.40" height="17.00" fill="#8FC9EE" />
<rect x="295.00" y="385.60" width="18.40" height="4.80" fill="#BDE49B" />
<rect x="322.80" y="295.20" width="18.40" height="31.20" fill="#FEBC7E" />
<rect x="322.80" y="335.40" width="18.40" height="55.00" fill="#FEBC7E" />
<line x1="249.50" y1="367.00" x2="249.50" y2="384.00" stroke="#000" stroke-width="0.9" />
<line x1="245.50" y1="367.00" x2="253.50" y2="367.00" stroke="#000" stroke-width="0.9" />
<line x1="245.50" y1="384.00" x2="253.50" y2="384.00" stroke="#000" stroke-width="0.9" />
<line x1="276.60" y1="348.40" x2="276.60" y2="384.00" stroke="#000" stroke-width="0.9" />
<line x1="272.60" y1="348.40" x2="280.60" y2="348.40" stroke="#000" stroke-width="0.9" />
<line x1="272.60" y1="384.00" x2="280.60" y2="384.00" stroke="#000" stroke-width="0.9" />
<line x1="304.20" y1="382.50" x2="304.20" y2="385.00" stroke="#000" stroke-width="0.9" />
<line x1="300.20" y1="382.50" x2="308.20" y2="382.50" stroke="#000" stroke-width="0.9" />
<line x1="300.20" y1="385.00" x2="308.20" y2="385.00" stroke="#000" stroke-width="0.9" />
<line x1="331.80" y1="277.90" x2="331.80" y2="311.70" stroke="#000" stroke-width="0.9" />
<line x1="327.80" y1="277.90" x2="335.80" y2="277.90" stroke="#000" stroke-width="0.9" />
<line x1="327.80" y1="311.70" x2="335.80" y2="311.70" stroke="#000" stroke-width="0.9" />
<circle cx="249.00" cy="361.60" r="1.9" fill="#000" stroke="none" stroke-width="0"/>
<circle cx="246.00" cy="363.60" r="1.9" fill="#000" stroke="none" stroke-width="0"/>
<circle cx="250.00" cy="367.00" r="1.9" fill="#000" stroke="none" stroke-width="0"/>
<circle cx="247.00" cy="368.00" r="1.9" fill="#000" stroke="none" stroke-width="0"/>
<circle cx="253.00" cy="370.00" r="1.9" fill="#000" stroke="none" stroke-width="0"/>
<circle cx="248.00" cy="373.00" r="1.9" fill="#000" stroke="none" stroke-width="0"/>
<circle cx="251.00" cy="376.00" r="1.9" fill="#000" stroke="none" stroke-width="0"/>
<circle cx="255.00" cy="376.00" r="1.9" fill="#000" stroke="none" stroke-width="0"/>
<circle cx="257.00" cy="376.00" r="1.9" fill="#000" stroke="none" stroke-width="0"/>
<circle cx="246.00" cy="379.00" r="1.9" fill="#000" stroke="none" stroke-width="0"/>
<circle cx="251.00" cy="380.00" r="1.9" fill="#000" stroke="none" stroke-width="0"/>
<circle cx="242.00" cy="382.00" r="1.9" fill="#000" stroke="none" stroke-width="0"/>
<circle cx="248.00" cy="382.00" r="1.9" fill="#000" stroke="none" stroke-width="0"/>
<circle cx="253.00" cy="382.00" r="1.9" fill="#000" stroke="none" stroke-width="0"/>
<circle cx="256.60" cy="382.00" r="1.9" fill="#000" stroke="none" stroke-width="0"/>
<circle cx="276.40" cy="371.00" r="1.9" fill="#000" stroke="none" stroke-width="0"/>
<circle cx="276.40" cy="374.00" r="1.9" fill="#000" stroke="none" stroke-width="0"/>
<circle cx="276.00" cy="378.00" r="1.9" fill="#000" stroke="none" stroke-width="0"/>
<circle cx="270.00" cy="381.00" r="1.9" fill="#000" stroke="none" stroke-width="0"/>
<circle cx="274.00" cy="382.00" r="1.9" fill="#000" stroke="none" stroke-width="0"/>
<circle cx="278.00" cy="381.00" r="1.9" fill="#000" stroke="none" stroke-width="0"/>
<circle cx="283.00" cy="381.00" r="1.9" fill="#000" stroke="none" stroke-width="0"/>
<circle cx="272.00" cy="383.00" r="1.9" fill="#000" stroke="none" stroke-width="0"/>
<circle cx="280.00" cy="383.00" r="1.9" fill="#000" stroke="none" stroke-width="0"/>
<circle cx="277.00" cy="384.00" r="1.9" fill="#000" stroke="none" stroke-width="0"/>
<circle cx="284.50" cy="382.00" r="1.9" fill="#000" stroke="none" stroke-width="0"/>
<circle cx="269.00" cy="382.50" r="1.9" fill="#000" stroke="none" stroke-width="0"/>
<circle cx="297.00" cy="383.00" r="1.9" fill="#000" stroke="none" stroke-width="0"/>
<circle cx="300.00" cy="382.40" r="1.9" fill="#000" stroke="none" stroke-width="0"/>
<circle cx="304.00" cy="382.00" r="1.9" fill="#000" stroke="none" stroke-width="0"/>
<circle cx="307.00" cy="383.00" r="1.9" fill="#000" stroke="none" stroke-width="0"/>
<circle cx="311.00" cy="383.60" r="1.9" fill="#000" stroke="none" stroke-width="0"/>
<circle cx="303.00" cy="384.00" r="1.9" fill="#000" stroke="none" stroke-width="0"/>
<circle cx="299.00" cy="384.50" r="1.9" fill="#000" stroke="none" stroke-width="0"/>
<circle cx="309.00" cy="384.50" r="1.9" fill="#000" stroke="none" stroke-width="0"/>
<circle cx="324.30" cy="274.50" r="1.9" fill="#000" stroke="none" stroke-width="0"/>
<circle cx="329.10" cy="274.30" r="1.9" fill="#000" stroke="none" stroke-width="0"/>
<circle cx="339.20" cy="275.10" r="1.9" fill="#000" stroke="none" stroke-width="0"/>
<circle cx="329.10" cy="278.30" r="1.9" fill="#000" stroke="none" stroke-width="0"/>
<circle cx="329.30" cy="285.70" r="1.9" fill="#000" stroke="none" stroke-width="0"/>
<circle cx="334.20" cy="284.60" r="1.9" fill="#000" stroke="none" stroke-width="0"/>
<circle cx="324.30" cy="292.10" r="1.9" fill="#000" stroke="none" stroke-width="0"/>
<circle cx="329.30" cy="290.70" r="1.9" fill="#000" stroke="none" stroke-width="0"/>
<circle cx="334.20" cy="292.80" r="1.9" fill="#000" stroke="none" stroke-width="0"/>
<circle cx="329.30" cy="295.20" r="1.9" fill="#000" stroke="none" stroke-width="0"/>
<circle cx="331.80" cy="301.30" r="1.9" fill="#000" stroke="none" stroke-width="0"/>
<circle cx="324.30" cy="305.50" r="1.9" fill="#000" stroke="none" stroke-width="0"/>
<circle cx="324.30" cy="309.60" r="1.9" fill="#000" stroke="none" stroke-width="0"/>
<circle cx="329.30" cy="308.00" r="1.9" fill="#000" stroke="none" stroke-width="0"/>
<circle cx="338.90" cy="308.30" r="1.9" fill="#000" stroke="none" stroke-width="0"/>
<circle cx="334.20" cy="311.50" r="1.9" fill="#000" stroke="none" stroke-width="0"/>
<circle cx="329.30" cy="313.30" r="1.9" fill="#000" stroke="none" stroke-width="0"/>
<circle cx="329.30" cy="322.10" r="1.9" fill="#000" stroke="none" stroke-width="0"/>
<circle cx="334.20" cy="321.00" r="1.9" fill="#000" stroke="none" stroke-width="0"/>
<line x1="231.00" y1="270.85" x2="231.00" y2="327.20" stroke="#000" stroke-width="1.3" />
<line x1="231.00" y1="334.35" x2="231.00" y2="390.40" stroke="#000" stroke-width="1.3" />
<line x1="228.00" y1="330.20" x2="234.00" y2="324.40" stroke="#000" stroke-width="1.3" />
<line x1="228.00" y1="337.80" x2="234.00" y2="332.00" stroke="#000" stroke-width="1.3" />
<line x1="226.00" y1="271.50" x2="231.65" y2="271.50" stroke="#000" stroke-width="1.3" />
<text x="224.30" y="274.50" font-size="9.0" text-anchor="end" font-weight="bold" font-family='"Liberation Serif", "Times New Roman", serif' fill="#000" stroke="#000" stroke-width="0.22" >3</text>
<line x1="226.00" y1="299.00" x2="231.65" y2="299.00" stroke="#000" stroke-width="1.3" />
<text x="224.30" y="302.00" font-size="9.0" text-anchor="end" font-weight="bold" font-family='"Liberation Serif", "Times New Roman", serif' fill="#000" stroke="#000" stroke-width="0.22" >2</text>
<text x="224.30" y="329.50" font-size="9.0" text-anchor="end" font-weight="bold" font-family='"Liberation Serif", "Times New Roman", serif' fill="#000" stroke="#000" stroke-width="0.22" >1</text>
<text x="224.30" y="338.70" font-size="9.0" text-anchor="end" font-weight="bold" font-family='"Liberation Serif", "Times New Roman", serif' fill="#000" stroke="#000" stroke-width="0.22" >0.3</text>
<line x1="226.00" y1="353.70" x2="231.65" y2="353.70" stroke="#000" stroke-width="1.3" />
<text x="224.30" y="356.70" font-size="9.0" text-anchor="end" font-weight="bold" font-family='"Liberation Serif", "Times New Roman", serif' fill="#000" stroke="#000" stroke-width="0.22" >0.2</text>
<line x1="226.00" y1="372.00" x2="231.65" y2="372.00" stroke="#000" stroke-width="1.3" />
<text x="224.30" y="375.00" font-size="9.0" text-anchor="end" font-weight="bold" font-family='"Liberation Serif", "Times New Roman", serif' fill="#000" stroke="#000" stroke-width="0.22" >0.1</text>
<line x1="226.00" y1="390.40" x2="231.65" y2="390.40" stroke="#000" stroke-width="1.3" />
<text x="224.30" y="393.40" font-size="9.0" text-anchor="end" font-weight="bold" font-family='"Liberation Serif", "Times New Roman", serif' fill="#000" stroke="#000" stroke-width="0.22" >0.0</text>
<line x1="230.35" y1="390.40" x2="350.90" y2="390.40" stroke="#000" stroke-width="1.3" />
<line x1="249.50" y1="390.40" x2="249.50" y2="395.40" stroke="#000" stroke-width="1.3" />
<line x1="276.80" y1="390.40" x2="276.80" y2="395.40" stroke="#000" stroke-width="1.3" />
<line x1="304.20" y1="390.40" x2="304.20" y2="395.40" stroke="#000" stroke-width="1.3" />
<line x1="332.00" y1="390.40" x2="332.00" y2="395.40" stroke="#000" stroke-width="1.3" />
<text transform="translate(251.50,404.00) rotate(-45)" font-size="8.7" text-anchor="end" font-weight="bold" font-family='"Liberation Serif", "Times New Roman", serif' stroke="#000" stroke-width="0.22">Goat-E</text>
<text transform="translate(278.80,404.00) rotate(-45)" font-size="8.7" text-anchor="end" font-weight="bold" font-family='"Liberation Serif", "Times New Roman", serif' stroke="#000" stroke-width="0.22">Goat-M</text>
<text transform="translate(306.20,404.00) rotate(-45)" font-size="8.7" text-anchor="end" font-weight="bold" font-family='"Liberation Serif", "Times New Roman", serif' stroke="#000" stroke-width="0.22">Goat-L</text>
<text transform="translate(334.00,404.00) rotate(-45)" font-size="8.7" text-anchor="end" font-weight="bold" font-family='"Liberation Serif", "Times New Roman", serif' stroke="#000" stroke-width="0.22">HM</text>
<line x1="249.10" y1="256.90" x2="332.30" y2="256.90" stroke="#000" stroke-width="1.3" />
<text x="291.00" y="254.60" font-size="13.0" text-anchor="middle" font-weight="bold" font-family='"Liberation Serif", "Times New Roman", serif' fill="#000" stroke="#000" stroke-width="0.3" textLength="26.50" lengthAdjust="spacing" >****</text>
<line x1="304.40" y1="270.50" x2="332.00" y2="270.50" stroke="#000" stroke-width="1.3" />
<text x="318.50" y="268.80" font-size="13.0" text-anchor="middle" font-weight="bold" font-family='"Liberation Serif", "Times New Roman", serif' fill="#000" stroke="#000" stroke-width="0.3" textLength="26.50" lengthAdjust="spacing" >****</text>
<text x="290.70" y="241.50" font-size="12" text-anchor="middle" font-weight="bold" font-family='"Liberation Serif", "Times New Roman", serif' fill="#000" stroke="#000" stroke-width="0.22" textLength="49.20" lengthAdjust="spacingAndGlyphs" >EtherLPE</text>
<text transform="translate(209.02,330.40) rotate(-90)" font-size="8.4" text-anchor="middle" font-weight="bold" font-family='"Liberation Serif", "Times New Roman", serif' fill="#000" stroke="#000" stroke-width="0.22" textLength="82.20" lengthAdjust="spacingAndGlyphs" >Concentration (μg/mL)</text>
<rect x="428.30" y="377.80" width="19.00" height="14.50" fill="#F8C8EE" />
<rect x="457.10" y="376.10" width="19.00" height="16.20" fill="#8FC9EE" />
<rect x="485.60" y="383.30" width="19.00" height="9.00" fill="#BDE49B" />
<rect x="514.10" y="319.90" width="19.00" height="6.40" fill="#FEBC7E" />
<rect x="514.10" y="335.40" width="19.00" height="56.90" fill="#FEBC7E" />
<line x1="437.90" y1="366.90" x2="437.90" y2="388.10" stroke="#000" stroke-width="0.9" />
<line x1="433.90" y1="366.90" x2="441.90" y2="366.90" stroke="#000" stroke-width="0.9" />
<line x1="433.90" y1="388.10" x2="441.90" y2="388.10" stroke="#000" stroke-width="0.9" />
<line x1="466.30" y1="366.30" x2="466.30" y2="386.00" stroke="#000" stroke-width="0.9" />
<line x1="462.30" y1="366.30" x2="470.30" y2="366.30" stroke="#000" stroke-width="0.9" />
<line x1="462.30" y1="386.00" x2="470.30" y2="386.00" stroke="#000" stroke-width="0.9" />
<line x1="495.10" y1="379.00" x2="495.10" y2="384.00" stroke="#000" stroke-width="0.9" />
<line x1="491.10" y1="379.00" x2="499.10" y2="379.00" stroke="#000" stroke-width="0.9" />
<line x1="491.10" y1="384.00" x2="499.10" y2="384.00" stroke="#000" stroke-width="0.9" />
<line x1="523.80" y1="312.70" x2="523.80" y2="322.00" stroke="#000" stroke-width="0.9" />
<line x1="519.80" y1="312.70" x2="527.80" y2="312.70" stroke="#000" stroke-width="0.9" />
<line x1="519.80" y1="322.00" x2="527.80" y2="322.00" stroke="#000" stroke-width="0.9" />
<circle cx="437.90" cy="351.60" r="1.9" fill="#000" stroke="none" stroke-width="0"/>
<circle cx="437.90" cy="357.10" r="1.9" fill="#000" stroke="none" stroke-width="0"/>
<circle cx="437.90" cy="363.20" r="1.9" fill="#000" stroke="none" stroke-width="0"/>
<circle cx="429.80" cy="378.90" r="1.9" fill="#000" stroke="none" stroke-width="0"/>
<circle cx="436.40" cy="378.90" r="1.9" fill="#000" stroke="none" stroke-width="0"/>
<circle cx="445.70" cy="378.50" r="1.9" fill="#000" stroke="none" stroke-width="0"/>
<circle cx="433.10" cy="383.30" r="1.9" fill="#000" stroke="none" stroke-width="0"/>
<circle cx="440.70" cy="384.40" r="1.9" fill="#000" stroke="none" stroke-width="0"/>
<circle cx="445.10" cy="383.30" r="1.9" fill="#000" stroke="none" stroke-width="0"/>
<circle cx="434.20" cy="388.10" r="1.9" fill="#000" stroke="none" stroke-width="0"/>
<circle cx="438.50" cy="381.50" r="1.9" fill="#000" stroke="none" stroke-width="0"/>
<circle cx="432.00" cy="381.00" r="1.9" fill="#000" stroke="none" stroke-width="0"/>
<circle cx="442.00" cy="380.00" r="1.9" fill="#000" stroke="none" stroke-width="0"/>
<circle cx="436.00" cy="385.00" r="1.9" fill="#000" stroke="none" stroke-width="0"/>
<circle cx="430.00" cy="384.00" r="1.9" fill="#000" stroke="none" stroke-width="0"/>
<circle cx="444.00" cy="386.00" r="1.9" fill="#000" stroke="none" stroke-width="0"/>
<circle cx="439.00" cy="388.00" r="1.9" fill="#000" stroke="none" stroke-width="0"/>
<circle cx="441.00" cy="381.50" r="1.9" fill="#000" stroke="none" stroke-width="0"/>
<circle cx="466.30" cy="345.10" r="1.9" fill="#000" stroke="none" stroke-width="0"/>
<circle cx="466.30" cy="357.10" r="1.9" fill="#000" stroke="none" stroke-width="0"/>
<circle cx="464.70" cy="359.90" r="1.9" fill="#000" stroke="none" stroke-width="0"/>
<circle cx="466.30" cy="371.30" r="1.9" fill="#000" stroke="none" stroke-width="0"/>
<circle cx="458.80" cy="380.00" r="1.9" fill="#000" stroke="none" stroke-width="0"/>
<circle cx="463.60" cy="378.90" r="1.9" fill="#000" stroke="none" stroke-width="0"/>
<circle cx="469.10" cy="377.80" r="1.9" fill="#000" stroke="none" stroke-width="0"/>
<circle cx="473.50" cy="380.00" r="1.9" fill="#000" stroke="none" stroke-width="0"/>
<circle cx="461.50" cy="382.20" r="1.9" fill="#000" stroke="none" stroke-width="0"/>
<circle cx="466.90" cy="382.20" r="1.9" fill="#000" stroke="none" stroke-width="0"/>
<circle cx="471.30" cy="383.30" r="1.9" fill="#000" stroke="none" stroke-width="0"/>
<circle cx="464.70" cy="384.40" r="1.9" fill="#000" stroke="none" stroke-width="0"/>
<circle cx="467.00" cy="375.00" r="1.9" fill="#000" stroke="none" stroke-width="0"/>
<circle cx="462.00" cy="381.00" r="1.9" fill="#000" stroke="none" stroke-width="0"/>
<circle cx="470.00" cy="381.50" r="1.9" fill="#000" stroke="none" stroke-width="0"/>
<circle cx="474.00" cy="382.50" r="1.9" fill="#000" stroke="none" stroke-width="0"/>
<circle cx="459.00" cy="383.50" r="1.9" fill="#000" stroke="none" stroke-width="0"/>
<circle cx="460.00" cy="378.00" r="1.9" fill="#000" stroke="none" stroke-width="0"/>
<circle cx="464.00" cy="376.00" r="1.9" fill="#000" stroke="none" stroke-width="0"/>
<circle cx="468.00" cy="379.00" r="1.9" fill="#000" stroke="none" stroke-width="0"/>
<circle cx="472.00" cy="377.00" r="1.9" fill="#000" stroke="none" stroke-width="0"/>
<circle cx="475.00" cy="381.00" r="1.9" fill="#000" stroke="none" stroke-width="0"/>
<circle cx="458.00" cy="382.00" r="1.9" fill="#000" stroke="none" stroke-width="0"/>
<circle cx="462.00" cy="384.00" r="1.9" fill="#000" stroke="none" stroke-width="0"/>
<circle cx="466.00" cy="385.00" r="1.9" fill="#000" stroke="none" stroke-width="0"/>
<circle cx="470.00" cy="384.00" r="1.9" fill="#000" stroke="none" stroke-width="0"/>
<circle cx="474.00" cy="384.50" r="1.9" fill="#000" stroke="none" stroke-width="0"/>
<circle cx="495.30" cy="375.00" r="1.9" fill="#000" stroke="none" stroke-width="0"/>
<circle cx="487.60" cy="380.00" r="1.9" fill="#000" stroke="none" stroke-width="0"/>
<circle cx="492.00" cy="379.30" r="1.9" fill="#000" stroke="none" stroke-width="0"/>
<circle cx="497.50" cy="380.70" r="1.9" fill="#000" stroke="none" stroke-width="0"/>
<circle cx="501.80" cy="381.50" r="1.9" fill="#000" stroke="none" stroke-width="0"/>
<circle cx="489.80" cy="382.20" r="1.9" fill="#000" stroke="none" stroke-width="0"/>
<circle cx="495.30" cy="382.20" r="1.9" fill="#000" stroke="none" stroke-width="0"/>
<circle cx="499.00" cy="383.00" r="1.9" fill="#000" stroke="none" stroke-width="0"/>
<circle cx="493.00" cy="383.50" r="1.9" fill="#000" stroke="none" stroke-width="0"/>
<circle cx="487.00" cy="381.00" r="1.9" fill="#000" stroke="none" stroke-width="0"/>
<circle cx="490.00" cy="380.00" r="1.9" fill="#000" stroke="none" stroke-width="0"/>
<circle cx="493.00" cy="381.50" r="1.9" fill="#000" stroke="none" stroke-width="0"/>
<circle cx="496.00" cy="379.00" r="1.9" fill="#000" stroke="none" stroke-width="0"/>
<circle cx="499.00" cy="381.00" r="1.9" fill="#000" stroke="none" stroke-width="0"/>
<circle cx="502.00" cy="382.00" r="1.9" fill="#000" stroke="none" stroke-width="0"/>
<circle cx="504.00" cy="380.50" r="1.9" fill="#000" stroke="none" stroke-width="0"/>
<circle cx="523.80" cy="303.30" r="1.9" fill="#000" stroke="none" stroke-width="0"/>
<circle cx="523.80" cy="311.60" r="1.9" fill="#000" stroke="none" stroke-width="0"/>
<circle cx="523.60" cy="316.10" r="1.9" fill="#000" stroke="none" stroke-width="0"/>
<circle cx="527.60" cy="316.50" r="1.9" fill="#000" stroke="none" stroke-width="0"/>
<circle cx="520.00" cy="321.40" r="1.9" fill="#000" stroke="none" stroke-width="0"/>
<circle cx="523.80" cy="320.70" r="1.9" fill="#000" stroke="none" stroke-width="0"/>
<circle cx="527.60" cy="322.00" r="1.9" fill="#000" stroke="none" stroke-width="0"/>
<circle cx="531.40" cy="320.70" r="1.9" fill="#000" stroke="none" stroke-width="0"/>
<circle cx="516.10" cy="324.10" r="1.9" fill="#000" stroke="none" stroke-width="0"/>
<circle cx="523.80" cy="324.10" r="1.9" fill="#000" stroke="none" stroke-width="0"/>
<circle cx="531.40" cy="325.40" r="1.9" fill="#000" stroke="none" stroke-width="0"/>
<line x1="419.20" y1="268.25" x2="419.20" y2="327.20" stroke="#000" stroke-width="1.3" />
<line x1="419.20" y1="334.35" x2="419.20" y2="392.30" stroke="#000" stroke-width="1.3" />
<line x1="416.20" y1="330.20" x2="422.20" y2="324.40" stroke="#000" stroke-width="1.3" />
<line x1="416.20" y1="337.80" x2="422.20" y2="332.00" stroke="#000" stroke-width="1.3" />
<line x1="414.20" y1="268.90" x2="419.85" y2="268.90" stroke="#000" stroke-width="1.3" />
<text x="412.20" y="271.90" font-size="9.0" text-anchor="end" font-weight="bold" font-family='"Liberation Serif", "Times New Roman", serif' fill="#000" stroke="#000" stroke-width="0.22" >60</text>
<line x1="414.20" y1="297.40" x2="419.85" y2="297.40" stroke="#000" stroke-width="1.3" />
<text x="412.20" y="300.40" font-size="9.0" text-anchor="end" font-weight="bold" font-family='"Liberation Serif", "Times New Roman", serif' fill="#000" stroke="#000" stroke-width="0.22" >40</text>
<text x="412.20" y="329.00" font-size="9.0" text-anchor="end" font-weight="bold" font-family='"Liberation Serif", "Times New Roman", serif' fill="#000" stroke="#000" stroke-width="0.22" >20</text>
<text x="412.20" y="338.80" font-size="9.0" text-anchor="end" font-weight="bold" font-family='"Liberation Serif", "Times New Roman", serif' fill="#000" stroke="#000" stroke-width="0.22" >1.2</text>
<line x1="414.20" y1="354.60" x2="419.85" y2="354.60" stroke="#000" stroke-width="1.3" />
<text x="412.20" y="357.60" font-size="9.0" text-anchor="end" font-weight="bold" font-family='"Liberation Serif", "Times New Roman", serif' fill="#000" stroke="#000" stroke-width="0.22" >0.8</text>
<line x1="414.20" y1="373.50" x2="419.85" y2="373.50" stroke="#000" stroke-width="1.3" />
<text x="412.20" y="376.50" font-size="9.0" text-anchor="end" font-weight="bold" font-family='"Liberation Serif", "Times New Roman", serif' fill="#000" stroke="#000" stroke-width="0.22" >0.4</text>
<line x1="414.20" y1="392.30" x2="419.85" y2="392.30" stroke="#000" stroke-width="1.3" />
<text x="412.20" y="395.30" font-size="9.0" text-anchor="end" font-weight="bold" font-family='"Liberation Serif", "Times New Roman", serif' fill="#000" stroke="#000" stroke-width="0.22" >0.0</text>
<line x1="418.55" y1="392.30" x2="543.50" y2="392.30" stroke="#000" stroke-width="1.3" />
<line x1="437.80" y1="392.30" x2="437.80" y2="397.30" stroke="#000" stroke-width="1.3" />
<line x1="466.60" y1="392.30" x2="466.60" y2="397.30" stroke="#000" stroke-width="1.3" />
<line x1="495.10" y1="392.30" x2="495.10" y2="397.30" stroke="#000" stroke-width="1.3" />
<line x1="523.60" y1="392.30" x2="523.60" y2="397.30" stroke="#000" stroke-width="1.3" />
<text transform="translate(439.80,405.90) rotate(-45)" font-size="8.7" text-anchor="end" font-weight="bold" font-family='"Liberation Serif", "Times New Roman", serif' stroke="#000" stroke-width="0.22">Goat-E</text>
<text transform="translate(468.60,405.90) rotate(-45)" font-size="8.7" text-anchor="end" font-weight="bold" font-family='"Liberation Serif", "Times New Roman", serif' stroke="#000" stroke-width="0.22">Goat-M</text>
<text transform="translate(497.10,405.90) rotate(-45)" font-size="8.7" text-anchor="end" font-weight="bold" font-family='"Liberation Serif", "Times New Roman", serif' stroke="#000" stroke-width="0.22">Goat-L</text>
<text transform="translate(525.60,405.90) rotate(-45)" font-size="8.7" text-anchor="end" font-weight="bold" font-family='"Liberation Serif", "Times New Roman", serif' stroke="#000" stroke-width="0.22">HM</text>
<line x1="438.20" y1="262.50" x2="523.40" y2="262.50" stroke="#000" stroke-width="1.3" />
<text x="481.10" y="259.50" font-size="13.0" text-anchor="middle" font-weight="bold" font-family='"Liberation Serif", "Times New Roman", serif' fill="#000" stroke="#000" stroke-width="0.3" textLength="26.50" lengthAdjust="spacing" >****</text>
<line x1="466.70" y1="288.40" x2="492.30" y2="288.40" stroke="#000" stroke-width="1.3" />
<text x="479.50" y="282.60" font-size="11" text-anchor="middle" font-weight="bold" font-family='"Liberation Serif", "Times New Roman", serif' fill="#000" stroke="#000" stroke-width="0.22" >ns</text>
<line x1="497.80" y1="288.40" x2="523.60" y2="288.40" stroke="#000" stroke-width="1.3" />
<text x="511.00" y="285.70" font-size="13.0" text-anchor="middle" font-weight="bold" font-family='"Liberation Serif", "Times New Roman", serif' fill="#000" stroke="#000" stroke-width="0.3" textLength="26.50" lengthAdjust="spacing" >****</text>
<text x="481.10" y="246.50" font-size="12" text-anchor="middle" font-weight="bold" font-family='"Liberation Serif", "Times New Roman", serif' fill="#000" stroke="#000" stroke-width="0.22" >LPE</text>
<text transform="translate(396.42,330.00) rotate(-90)" font-size="8.4" text-anchor="middle" font-weight="bold" font-family='"Liberation Serif", "Times New Roman", serif' fill="#000" stroke="#000" stroke-width="0.22" textLength="86.00" lengthAdjust="spacingAndGlyphs" >Concentration (μg/mL)</text>
<line x1="28.70" y1="497.50" x2="215.50" y2="497.50" stroke="#6f6fff" stroke-width="1.0" />
<line x1="28.70" y1="523.50" x2="215.50" y2="523.50" stroke="#6f6fff" stroke-width="1.0" />
<line x1="28.70" y1="548.50" x2="215.50" y2="548.50" stroke="#6f6fff" stroke-width="1.0" />
<line x1="28.70" y1="574.50" x2="215.50" y2="574.50" stroke="#6f6fff" stroke-width="1.0" />
<line x1="28.70" y1="600.50" x2="215.50" y2="600.50" stroke="#6f6fff" stroke-width="1.0" />
<line x1="28.70" y1="625.50" x2="215.50" y2="625.50" stroke="#6f6fff" stroke-width="1.0" />
<line x1="28.70" y1="651.50" x2="215.50" y2="651.50" stroke="#6f6fff" stroke-width="1.0" />
<line x1="34.50" y1="490.30" x2="34.50" y2="673.50" stroke="#6f6fff" stroke-width="1.0" />
<line x1="63.50" y1="490.30" x2="63.50" y2="673.50" stroke="#6f6fff" stroke-width="1.0" />
<line x1="92.50" y1="490.30" x2="92.50" y2="673.50" stroke="#6f6fff" stroke-width="1.0" />
<line x1="121.50" y1="490.30" x2="121.50" y2="673.50" stroke="#6f6fff" stroke-width="1.0" />
<line x1="150.50" y1="490.30" x2="150.50" y2="673.50" stroke="#6f6fff" stroke-width="1.0" />
<line x1="179.50" y1="490.30" x2="179.50" y2="673.50" stroke="#6f6fff" stroke-width="1.0" />
<line x1="208.50" y1="490.30" x2="208.50" y2="673.50" stroke="#6f6fff" stroke-width="1.0" />
<line x1="28.60" y1="497.50" x2="28.60" y2="651.50" stroke="#555" stroke-width="0.9" />
<line x1="25.20" y1="497.50" x2="28.70" y2="497.50" stroke="#555" stroke-width="0.9" />
<text transform="translate(21.50,497.50) rotate(-90)" font-size="6.4" text-anchor="middle" font-family='"Liberation Sans", Arial, sans-serif' fill="#222" stroke="#222" stroke-width="0.12">4.0</text>
<line x1="25.20" y1="523.50" x2="28.70" y2="523.50" stroke="#555" stroke-width="0.9" />
<text transform="translate(21.50,523.50) rotate(-90)" font-size="6.4" text-anchor="middle" font-family='"Liberation Sans", Arial, sans-serif' fill="#222" stroke="#222" stroke-width="0.12">3.5</text>
<line x1="25.20" y1="548.50" x2="28.70" y2="548.50" stroke="#555" stroke-width="0.9" />
<text transform="translate(21.50,548.50) rotate(-90)" font-size="6.4" text-anchor="middle" font-family='"Liberation Sans", Arial, sans-serif' fill="#222" stroke="#222" stroke-width="0.12">3.0</text>
<line x1="25.20" y1="574.50" x2="28.70" y2="574.50" stroke="#555" stroke-width="0.9" />
<text transform="translate(21.50,574.50) rotate(-90)" font-size="6.4" text-anchor="middle" font-family='"Liberation Sans", Arial, sans-serif' fill="#222" stroke="#222" stroke-width="0.12">2.5</text>
<line x1="25.20" y1="600.50" x2="28.70" y2="600.50" stroke="#555" stroke-width="0.9" />
<text transform="translate(21.50,600.50) rotate(-90)" font-size="6.4" text-anchor="middle" font-family='"Liberation Sans", Arial, sans-serif' fill="#222" stroke="#222" stroke-width="0.12">2.0</text>
<line x1="25.20" y1="625.50" x2="28.70" y2="625.50" stroke="#555" stroke-width="0.9" />
<text transform="translate(21.50,625.50) rotate(-90)" font-size="6.4" text-anchor="middle" font-family='"Liberation Sans", Arial, sans-serif' fill="#222" stroke="#222" stroke-width="0.12">1.5</text>
<line x1="25.20" y1="651.50" x2="28.70" y2="651.50" stroke="#555" stroke-width="0.9" />
<text transform="translate(21.50,651.50) rotate(-90)" font-size="6.4" text-anchor="middle" font-family='"Liberation Sans", Arial, sans-serif' fill="#222" stroke="#222" stroke-width="0.12">1.0</text>
<line x1="34.50" y1="673.50" x2="208.50" y2="673.50" stroke="#555" stroke-width="0.9" />
<line x1="34.50" y1="673.50" x2="34.50" y2="676.60" stroke="#555" stroke-width="0.9" />
<text x="34.50" y="686.70" font-size="6.0" text-anchor="middle" font-weight="normal" font-family='"Liberation Sans", Arial, sans-serif' fill="#333" stroke="#333" stroke-width="0.1">0.00</text>
<line x1="63.50" y1="673.50" x2="63.50" y2="676.60" stroke="#555" stroke-width="0.9" />
<text x="63.50" y="686.70" font-size="6.0" text-anchor="middle" font-weight="normal" font-family='"Liberation Sans", Arial, sans-serif' fill="#333" stroke="#333" stroke-width="0.1">0.05</text>
<line x1="92.50" y1="673.50" x2="92.50" y2="676.60" stroke="#555" stroke-width="0.9" />
<text x="92.50" y="686.70" font-size="6.0" text-anchor="middle" font-weight="normal" font-family='"Liberation Sans", Arial, sans-serif' fill="#333" stroke="#333" stroke-width="0.1">0.10</text>
<line x1="121.50" y1="673.50" x2="121.50" y2="676.60" stroke="#555" stroke-width="0.9" />
<text x="121.50" y="686.70" font-size="6.0" text-anchor="middle" font-weight="normal" font-family='"Liberation Sans", Arial, sans-serif' fill="#333" stroke="#333" stroke-width="0.1">0.15</text>
<line x1="150.50" y1="673.50" x2="150.50" y2="676.60" stroke="#555" stroke-width="0.9" />
<text x="150.50" y="686.70" font-size="6.0" text-anchor="middle" font-weight="normal" font-family='"Liberation Sans", Arial, sans-serif' fill="#333" stroke="#333" stroke-width="0.1">0.20</text>
<line x1="179.50" y1="673.50" x2="179.50" y2="676.60" stroke="#555" stroke-width="0.9" />
<text x="179.50" y="686.70" font-size="6.0" text-anchor="middle" font-weight="normal" font-family='"Liberation Sans", Arial, sans-serif' fill="#333" stroke="#333" stroke-width="0.1">0.25</text>
<line x1="208.50" y1="673.50" x2="208.50" y2="676.60" stroke="#555" stroke-width="0.9" />
<text x="208.50" y="686.70" font-size="6.0" text-anchor="middle" font-weight="normal" font-family='"Liberation Sans", Arial, sans-serif' fill="#333" stroke="#333" stroke-width="0.1">0.30</text>
<text x="122.00" y="700.20" font-size="5.8" text-anchor="middle" font-weight="normal" font-family='"Liberation Sans", Arial, sans-serif' fill="#333" >Pathway Impact</text>
<text transform="translate(8.30,582.40) rotate(-90)" font-size="5.8" text-anchor="middle" font-family='"Liberation Sans", Arial, sans-serif' fill="#333">-log10(p)</text>
<text x="11.60" y="498.80" font-size="13.2" text-anchor="middle" font-weight="bold" font-family='"Liberation Serif", "Times New Roman", serif' fill="#000" stroke="#000" stroke-width="0.22" >D</text>
<circle cx="35.30" cy="662.90" r="2.1" fill="#E8A000" stroke="#333" stroke-width="0.4"/>
<circle cx="37.50" cy="662.90" r="2.1" fill="#FFFF00" stroke="#333" stroke-width="0.4"/>
<circle cx="43.30" cy="666.70" r="2.6" fill="#FFFF80" stroke="#333" stroke-width="0.4"/>
<circle cx="40.40" cy="644.10" r="2.2" fill="#FF7000" stroke="#333" stroke-width="0.4"/>
<circle cx="52.60" cy="528.90" r="3.1" fill="#F00000" stroke="#333" stroke-width="0.4"/>
<circle cx="191.20" cy="577.80" r="7.1" fill="#FF4500" stroke="#333" stroke-width="0.5"/>
<text x="28.10" y="519.90" font-size="10.12" text-anchor="start" font-weight="bold" font-family='"Liberation Serif", "Times New Roman", serif' fill="#000" stroke="#000" stroke-width="0.22" >Glycerophospholipid metabolism</text>
<text x="99.90" y="558.90" font-size="10.15" text-anchor="start" font-weight="bold" font-family='"Liberation Serif", "Times New Roman", serif' fill="#000" stroke="#000" stroke-width="0.22" >Sphingolipid metabolism</text>
<text x="36.80" y="634.20" font-size="10.15" text-anchor="start" font-weight="bold" font-family='"Liberation Serif", "Times New Roman", serif' fill="#000" stroke="#000" stroke-width="0.22" >Glycerolipid metabolism</text>
<text x="221.50" y="586.30" font-size="5.15" text-anchor="middle" font-weight="bold" font-family='"Liberation Serif", "Times New Roman", serif' fill="#000" stroke="#000" stroke-width="0.12" >Node size mapping</text>
<text x="221.50" y="592.40" font-size="5.15" text-anchor="middle" font-weight="bold" font-family='"Liberation Serif", "Times New Roman", serif' fill="#000" stroke="#000" stroke-width="0.12" >(Pathway Impact)</text>
<circle cx="216.80" cy="600.20" r="7.5" fill="none" stroke="#222" stroke-width="0.8"/>
<circle cx="216.80" cy="613.30" r="3.2" fill="none" stroke="#222" stroke-width="0.8"/>
<circle cx="216.80" cy="619.50" r="1.2" fill="none" stroke="#222" stroke-width="0.7"/>
<text x="227.00" y="602.00" font-size="5.15" text-anchor="start" font-weight="bold" font-family='"Liberation Serif", "Times New Roman", serif' fill="#000" stroke="#000" stroke-width="0.12" >0.3</text>
<text x="227.00" y="615.30" font-size="5.15" text-anchor="start" font-weight="bold" font-family='"Liberation Serif", "Times New Roman", serif' fill="#000" stroke="#000" stroke-width="0.12" >0.15</text>
<text x="227.00" y="621.30" font-size="5.15" text-anchor="start" font-weight="bold" font-family='"Liberation Serif", "Times New Roman", serif' fill="#000" stroke="#000" stroke-width="0.12" >0</text>
<text x="222.50" y="628.40" font-size="5.15" text-anchor="middle" font-weight="bold" font-family='"Liberation Serif", "Times New Roman", serif' fill="#000" stroke="#000" stroke-width="0.12" >Node fill color mapping</text>
<text x="222.50" y="634.30" font-size="5.15" text-anchor="middle" font-weight="bold" font-family='"Liberation Serif", "Times New Roman", serif' fill="#000" stroke="#000" stroke-width="0.12" >(-log10(p))</text>
<defs><linearGradient id="gD" x1="0" y1="0" x2="0" y2="1"><stop offset="0" stop-color="#DE3A26"/><stop offset="0.5" stop-color="#EE8A3A"/><stop offset="1" stop-color="#FFF650"/></linearGradient><linearGradient id="gE" x1="0" y1="0" x2="0" y2="1"><stop offset="0" stop-color="#B80028"/><stop offset="0.25" stop-color="#E0342C"/><stop offset="0.5" stop-color="#F8863A"/><stop offset="0.75" stop-color="#FDBE68"/><stop offset="1" stop-color="#FFEBA4"/></linearGradient></defs>
<rect x="212.90" y="635.80" width="8.10" height="43.00" fill="url(#gD)" />
<text x="222.50" y="639.70" font-size="5.15" text-anchor="start" font-weight="bold" font-family='"Liberation Serif", "Times New Roman", serif' fill="#000" stroke="#000" stroke-width="0.12" >3.5</text>
<text x="222.50" y="659.40" font-size="5.15" text-anchor="start" font-weight="bold" font-family='"Liberation Serif", "Times New Roman", serif' fill="#000" stroke="#000" stroke-width="0.12" >1</text>
<text x="222.50" y="679.20" font-size="5.15" text-anchor="start" font-weight="bold" font-family='"Liberation Serif", "Times New Roman", serif' fill="#000" stroke="#000" stroke-width="0.12" >0</text>
<text x="256.40" y="510.10" font-size="13.0" text-anchor="middle" font-weight="bold" font-family='"Liberation Serif", "Times New Roman", serif' fill="#000" stroke="#000" stroke-width="0.22" textLength="7.70" lengthAdjust="spacingAndGlyphs" >E</text>
<g fill="none" stroke="#505050" stroke-width="0.55" stroke-dasharray="0.9 1.3">
<path d="M271.8,576.8Q281.7,555.0 288.7,532.3"/>
<path d="M271.8,576.8Q280.2,554.5 288.7,532.3"/>
<path d="M271.8,576.8Q287.8,549.4 299.4,520.1"/>
<path d="M271.8,576.8Q287.9,549.4 299.4,520.1"/>
<path d="M271.8,576.8Q287.7,549.3 299.4,520.1"/>
<path d="M271.8,576.8Q290.7,542.6 312.5,510.9"/>
<path d="M271.8,576.8Q292.7,543.7 312.5,510.9"/>
<path d="M271.8,576.8Q297.8,538.6 326.3,502.9"/>
<path d="M271.8,576.8Q297.5,529.0 341.5,498.1"/>
<path d="M271.8,576.8Q309.0,539.0 341.5,498.1"/>
<path d="M271.8,576.8Q314.2,535.2 357.8,495.9"/>
<path d="M271.8,576.8Q309.0,529.7 357.8,495.9"/>
<path d="M271.8,576.8Q317.1,529.8 372.7,495.5"/>
<path d="M271.8,576.8Q327.8,543.0 372.7,495.5"/>
<path d="M271.8,576.8Q321.2,524.6 388.2,499.5"/>
<path d="M271.8,576.8Q329.8,537.5 388.2,499.5"/>
<path d="M271.8,576.8Q326.5,532.6 388.2,499.5"/>
<path d="M271.8,576.8Q325.5,518.6 403.1,506.5"/>
<path d="M271.8,576.8Q330.8,528.4 403.1,506.5"/>
<path d="M271.8,576.8Q330.7,513.3 416.6,515.5"/>
<path d="M271.8,576.8Q328.2,507.6 416.6,515.5"/>
<path d="M271.8,576.8Q347.3,543.1 427.4,525.6"/>
<path d="M271.8,576.8Q345.8,538.5 427.4,525.6"/>
<path d="M271.8,576.8Q348.1,529.4 437.4,537.9"/>
<path d="M271.8,576.8Q344.3,513.7 437.4,537.9"/>
<path d="M271.8,576.8Q353.5,529.6 444.5,553.3"/>
<path d="M271.8,576.8Q354.8,539.7 444.5,553.3"/>
<path d="M271.8,576.8Q351.7,517.0 444.5,553.3"/>
<path d="M271.8,576.8Q358.6,536.4 448.2,568.4"/>
<path d="M271.8,576.8Q358.4,532.7 448.2,568.4"/>
<path d="M275.6,560.4Q287.3,540.2 299.4,520.1"/>
<path d="M275.6,560.4Q287.0,540.0 299.4,520.1"/>
<path d="M275.6,560.4Q294.5,535.8 312.5,510.9"/>
<path d="M275.6,560.4Q290.7,533.1 312.5,510.9"/>
<path d="M275.6,560.4Q293.7,535.3 312.5,510.9"/>
<path d="M275.6,560.4Q295.9,527.1 326.3,502.9"/>
<path d="M275.6,560.4Q299.4,530.2 326.3,502.9"/>
<path d="M275.6,560.4Q295.8,527.0 326.3,502.9"/>
<path d="M275.6,560.4Q306.9,527.4 341.5,498.1"/>
<path d="M275.6,560.4Q308.4,517.5 357.8,495.9"/>
<path d="M275.6,560.4Q317.8,529.4 357.8,495.9"/>
<path d="M275.6,560.4Q325.2,530.1 372.7,495.5"/>
<path d="M275.6,560.4Q319.8,521.8 372.7,495.5"/>
<path d="M275.6,560.4Q328.7,535.4 372.7,495.5"/>
<path d="M275.6,560.4Q330.7,528.0 388.2,499.5"/>
<path d="M275.6,560.4Q321.1,510.1 388.2,499.5"/>
<path d="M275.6,560.4Q333.9,520.4 403.1,506.5"/>
<path d="M275.6,560.4Q329.2,509.4 403.1,506.5"/>
<path d="M275.6,560.4Q350.2,537.3 427.4,525.6"/>
<path d="M275.6,560.4Q347.1,523.7 427.4,525.6"/>
<path d="M275.6,560.4Q354.6,556.5 427.4,525.6"/>
<path d="M275.6,560.4Q357.5,559.1 437.4,537.9"/>
<path d="M275.6,560.4Q358.5,566.6 437.4,537.9"/>
<path d="M275.6,560.4Q357.6,559.9 437.4,537.9"/>
<path d="M275.6,560.4Q359.6,551.5 444.5,553.3"/>
<path d="M275.6,560.4Q357.9,511.7 444.5,553.3"/>
<path d="M275.6,560.4Q360.3,568.3 444.5,553.3"/>
<path d="M275.6,560.4Q362.0,560.3 448.2,568.4"/>
<path d="M275.6,560.4Q361.1,580.0 448.2,568.4"/>
<path d="M275.6,560.4Q365.0,554.6 449.5,584.4"/>
<path d="M275.6,560.4Q359.9,591.7 449.5,584.4"/>
<path d="M281.1,545.7Q296.3,527.7 312.5,510.9"/>
<path d="M281.1,545.7Q297.0,528.4 312.5,510.9"/>
<path d="M281.1,545.7Q304.2,524.7 326.3,502.9"/>
<path d="M281.1,545.7Q304.8,525.3 326.3,502.9"/>
<path d="M281.1,545.7Q306.2,515.4 341.5,498.1"/>
<path d="M281.1,545.7Q318.4,519.1 357.8,495.9"/>
<path d="M281.1,545.7Q314.9,513.7 357.8,495.9"/>
<path d="M281.1,545.7Q314.8,513.6 357.8,495.9"/>
<path d="M281.1,545.7Q327.7,522.6 372.7,495.5"/>
<path d="M281.1,545.7Q339.6,518.1 403.1,506.5"/>
<path d="M281.1,545.7Q344.8,534.3 403.1,506.5"/>
<path d="M281.1,545.7Q348.9,530.3 416.6,515.5"/>
<path d="M281.1,545.7Q345.0,513.2 416.6,515.5"/>
<path d="M281.1,545.7Q349.8,503.6 427.4,525.6"/>
<path d="M281.1,545.7Q359.1,546.9 437.4,537.9"/>
<path d="M281.1,545.7Q359.2,548.3 437.4,537.9"/>
<path d="M281.1,545.7Q358.0,523.0 437.4,537.9"/>
<path d="M281.1,545.7Q363.7,524.7 444.5,553.3"/>
<path d="M281.1,545.7Q368.4,528.9 448.2,568.4"/>
<path d="M281.1,545.7Q363.0,575.1 449.5,584.4"/>
<path d="M288.7,532.3Q306.1,515.7 326.3,502.9"/>
<path d="M288.7,532.3Q314.5,514.1 341.5,498.1"/>
<path d="M288.7,532.3Q323.9,515.0 357.8,495.9"/>
<path d="M288.7,532.3Q319.8,507.4 357.8,495.9"/>
<path d="M288.7,532.3Q327.5,506.8 372.7,495.5"/>
<path d="M288.7,532.3Q336.8,510.8 388.2,499.5"/>
<path d="M288.7,532.3Q340.4,521.7 388.2,499.5"/>
<path d="M288.7,532.3Q341.9,501.3 403.1,506.5"/>
<path d="M288.7,532.3Q342.3,503.0 403.1,506.5"/>
<path d="M288.7,532.3Q352.9,524.3 416.6,515.5"/>
<path d="M288.7,532.3Q352.9,524.7 416.6,515.5"/>
<path d="M288.7,532.3Q358.2,530.3 427.4,525.6"/>
<path d="M288.7,532.3Q358.5,535.7 427.4,525.6"/>
<path d="M288.7,532.3Q363.1,527.2 437.4,537.9"/>
<path d="M288.7,532.3Q364.0,504.7 437.4,537.9"/>
<path d="M288.7,532.3Q364.1,504.0 437.4,537.9"/>
<path d="M288.7,532.3Q368.5,528.3 444.5,553.3"/>
<path d="M288.7,532.3Q364.4,558.5 444.5,553.3"/>
<path d="M288.7,532.3Q365.7,548.8 444.5,553.3"/>
<path d="M288.7,532.3Q376.2,516.3 448.2,568.4"/>
<path d="M288.7,532.3Q371.3,538.1 448.2,568.4"/>
<path d="M288.7,532.3Q370.1,555.7 449.5,584.4"/>
<path d="M288.7,532.3Q375.6,538.6 449.5,584.4"/>
<path d="M299.4,520.1Q319.8,507.7 341.5,498.1"/>
<path d="M299.4,520.1Q320.4,508.8 341.5,498.1"/>
<path d="M299.4,520.1Q327.7,505.6 357.8,495.9"/>
<path d="M299.4,520.1Q335.1,505.2 372.7,495.5"/>
<path d="M299.4,520.1Q335.4,506.3 372.7,495.5"/>
<path d="M299.4,520.1Q343.0,506.4 388.2,499.5"/>
<path d="M299.4,520.1Q341.5,500.0 388.2,499.5"/>
<path d="M299.4,520.1Q350.5,507.1 403.1,506.5"/>
<path d="M299.4,520.1Q358.3,521.8 416.6,515.5"/>
<path d="M299.4,520.1Q363.1,530.6 427.4,525.6"/>
<path d="M299.4,520.1Q363.1,530.6 427.4,525.6"/>
<path d="M299.4,520.1Q370.4,511.9 437.4,537.9"/>
<path d="M299.4,520.1Q378.6,507.3 444.5,553.3"/>
<path d="M299.4,520.1Q385.9,507.0 448.2,568.4"/>
<path d="M299.4,520.1Q377.4,533.2 448.2,568.4"/>
<path d="M299.4,520.1Q378.3,543.4 449.5,584.4"/>
<path d="M299.4,520.1Q375.8,549.2 449.5,584.4"/>
<path d="M312.5,510.9Q334.6,502.0 357.8,495.9"/>
<path d="M312.5,510.9Q334.3,501.1 357.8,495.9"/>
<path d="M312.5,510.9Q342.8,505.1 372.7,495.5"/>
<path d="M312.5,510.9Q341.8,500.9 372.7,495.5"/>
<path d="M312.5,510.9Q342.7,504.8 372.7,495.5"/>
<path d="M312.5,510.9Q357.6,507.9 403.1,506.5"/>
<path d="M312.5,510.9Q357.3,499.7 403.1,506.5"/>
<path d="M312.5,510.9Q357.7,510.0 403.1,506.5"/>
<path d="M312.5,510.9Q365.1,498.5 416.6,515.5"/>
<path d="M312.5,510.9Q364.3,514.8 416.6,515.5"/>
<path d="M312.5,510.9Q371.3,506.4 427.4,525.6"/>
<path d="M312.5,510.9Q368.9,524.1 427.4,525.6"/>
<path d="M312.5,510.9Q372.7,531.9 437.4,537.9"/>
<path d="M312.5,510.9Q385.7,508.6 444.5,553.3"/>
<path d="M312.5,510.9Q391.5,512.5 448.2,568.4"/>
<path d="M312.5,510.9Q381.1,536.8 448.2,568.4"/>
<path d="M312.5,510.9Q392.8,509.5 448.2,568.4"/>
<path d="M312.5,510.9Q376.3,555.5 449.5,584.4"/>
<path d="M312.5,510.9Q379.4,549.8 449.5,584.4"/>
<path d="M312.5,510.9Q377.2,553.8 449.5,584.4"/>
<path d="M326.3,502.9Q349.5,500.1 372.7,495.5"/>
<path d="M326.3,502.9Q349.4,499.7 372.7,495.5"/>
<path d="M326.3,502.9Q357.1,499.7 388.2,499.5"/>
<path d="M326.3,502.9Q357.1,500.8 388.2,499.5"/>
<path d="M326.3,502.9Q357.2,501.5 388.2,499.5"/>
<path d="M326.3,502.9Q365.0,499.1 403.1,506.5"/>
<path d="M326.3,502.9Q364.7,505.1 403.1,506.5"/>
<path d="M326.3,502.9Q365.1,496.8 403.1,506.5"/>
<path d="M326.3,502.9Q372.7,500.0 416.6,515.5"/>
<path d="M326.3,502.9Q372.0,505.1 416.6,515.5"/>
<path d="M326.3,502.9Q377.8,509.6 427.4,525.6"/>
<path d="M326.3,502.9Q385.9,506.6 437.4,537.9"/>
<path d="M326.3,502.9Q386.0,526.0 444.5,553.3"/>
<path d="M326.3,502.9Q383.0,532.9 444.5,553.3"/>
<path d="M326.3,502.9Q391.4,513.4 444.5,553.3"/>
<path d="M326.3,502.9Q384.6,540.2 448.2,568.4"/>
<path d="M326.3,502.9Q398.2,514.9 448.2,568.4"/>
<path d="M326.3,502.9Q386.5,545.5 449.5,584.4"/>
<path d="M326.3,502.9Q392.6,536.3 449.5,584.4"/>
<path d="M341.5,498.1Q364.8,498.1 388.2,499.5"/>
<path d="M341.5,498.1Q364.9,496.0 388.2,499.5"/>
<path d="M341.5,498.1Q372.3,501.9 403.1,506.5"/>
<path d="M341.5,498.1Q372.4,501.1 403.1,506.5"/>
<path d="M341.5,498.1Q379.4,505.0 416.6,515.5"/>
<path d="M341.5,498.1Q379.7,503.6 416.6,515.5"/>
<path d="M341.5,498.1Q379.7,503.6 416.6,515.5"/>
<path d="M341.5,498.1Q384.3,512.1 427.4,525.6"/>
<path d="M341.5,498.1Q384.9,510.0 427.4,525.6"/>
<path d="M341.5,498.1Q383.1,515.7 427.4,525.6"/>
<path d="M341.5,498.1Q388.4,519.6 437.4,537.9"/>
<path d="M341.5,498.1Q390.9,513.7 437.4,537.9"/>
<path d="M341.5,498.1Q395.5,532.0 448.2,568.4"/>
<path d="M341.5,498.1Q403.1,520.5 448.2,568.4"/>
<path d="M341.5,498.1Q410.0,522.9 449.5,584.4"/>
<path d="M357.8,495.9Q387.9,503.6 416.6,515.5"/>
<path d="M357.8,495.9Q388.6,501.5 416.6,515.5"/>
<path d="M357.8,495.9Q395.1,504.7 427.4,525.6"/>
<path d="M357.8,495.9Q394.9,521.3 437.4,537.9"/>
<path d="M357.8,495.9Q397.4,516.7 437.4,537.9"/>
<path d="M357.8,495.9Q407.3,515.0 444.5,553.3"/>
<path d="M357.8,495.9Q404.8,518.7 444.5,553.3"/>
<path d="M357.8,495.9Q397.7,538.5 448.2,568.4"/>
<path d="M357.8,495.9Q409.3,534.1 449.5,584.4"/>
<path d="M372.7,495.5Q395.4,504.1 416.6,515.5"/>
<path d="M372.7,495.5Q394.3,506.6 416.6,515.5"/>
<path d="M372.7,495.5Q395.4,504.2 416.6,515.5"/>
<path d="M372.7,495.5Q401.4,508.4 427.4,525.6"/>
<path d="M372.7,495.5Q400.1,510.7 427.4,525.6"/>
<path d="M372.7,495.5Q406.6,514.3 437.4,537.9"/>
<path d="M372.7,495.5Q406.4,514.7 437.4,537.9"/>
<path d="M372.7,495.5Q406.8,526.8 444.5,553.3"/>
<path d="M372.7,495.5Q412.7,519.4 444.5,553.3"/>
<path d="M372.7,495.5Q411.0,521.5 444.5,553.3"/>
<path d="M372.7,495.5Q406.8,536.0 448.2,568.4"/>
<path d="M372.7,495.5Q415.9,526.5 448.2,568.4"/>
<path d="M372.7,495.5Q415.8,536.2 449.5,584.4"/>
<path d="M372.7,495.5Q414.8,537.1 449.5,584.4"/>
<path d="M388.2,499.5Q409.0,510.8 427.4,525.6"/>
<path d="M388.2,499.5Q409.2,510.5 427.4,525.6"/>
<path d="M388.2,499.5Q412.8,518.5 437.4,537.9"/>
<path d="M388.2,499.5Q415.9,526.8 444.5,553.3"/>
<path d="M388.2,499.5Q421.1,521.4 444.5,553.3"/>
<path d="M388.2,499.5Q418.3,524.3 444.5,553.3"/>
<path d="M388.2,499.5Q420.9,531.6 448.2,568.4"/>
<path d="M388.2,499.5Q424.5,528.5 448.2,568.4"/>
<path d="M388.2,499.5Q429.3,534.5 449.5,584.4"/>
<path d="M388.2,499.5Q429.5,534.3 449.5,584.4"/>
<path d="M403.1,506.5Q418.9,523.4 437.4,537.9"/>
<path d="M403.1,506.5Q420.2,522.0 437.4,537.9"/>
<path d="M403.1,506.5Q419.7,522.6 437.4,537.9"/>
<path d="M403.1,506.5Q423.9,529.6 444.5,553.3"/>
<path d="M403.1,506.5Q426.6,527.3 444.5,553.3"/>
<path d="M403.1,506.5Q426.1,527.7 444.5,553.3"/>
<path d="M403.1,506.5Q431.4,533.2 448.2,568.4"/>
<path d="M403.1,506.5Q427.6,544.6 449.5,584.4"/>
<path d="M403.1,506.5Q436.1,539.5 449.5,584.4"/>
<path d="M416.6,515.5Q430.5,534.3 444.5,553.3"/>
<path d="M416.6,515.5Q430.2,534.5 444.5,553.3"/>
<path d="M416.6,515.5Q429.6,534.9 444.5,553.3"/>
<path d="M416.6,515.5Q436.3,539.6 448.2,568.4"/>
<path d="M416.6,515.5Q432.2,542.0 448.2,568.4"/>
<path d="M416.6,515.5Q432.0,550.4 449.5,584.4"/>
<path d="M416.6,515.5Q439.7,546.7 449.5,584.4"/>
<path d="M427.4,525.6Q441.6,553.8 449.5,584.4"/>
<path d="M427.4,525.6Q441.7,553.8 449.5,584.4"/>
<path d="M437.4,537.9Q444.8,560.9 449.5,584.4"/>
<path d="M437.4,537.9Q442.0,561.7 449.5,584.4"/>
<path d="M272.4,592.0Q330.2,545.1 388.2,499.5"/>
<path d="M272.4,592.0Q338.7,551.2 403.1,506.5"/>
<path d="M272.4,592.0Q345.1,553.0 416.6,515.5"/>
<path d="M272.4,592.0Q349.5,557.5 427.4,525.6"/>
<path d="M272.4,592.0Q353.7,566.6 437.4,537.9"/>
<path d="M272.4,592.0Q361.9,582.2 448.2,568.4"/>
<path d="M272.4,592.0Q359.1,594.4 448.3,600.1"/>
<path d="M272.4,592.0Q356.5,602.7 443.8,615.5"/>
<path d="M272.4,592.0Q355.2,612.6 437.5,630.1"/>
<path d="M272.4,592.0Q349.8,617.1 427.8,642.9"/>
<path d="M272.4,592.0Q344.0,622.0 416.6,653.3"/>
<path d="M271.8,576.8Q321.4,538.0 372.7,495.5"/>
<path d="M271.8,576.8Q330.0,538.7 388.2,499.5"/>
<path d="M271.8,576.8Q343.3,545.1 416.6,515.5"/>
<path d="M271.8,576.8Q349.4,553.0 427.4,525.6"/>
<path d="M271.8,576.8Q356.1,555.4 437.4,537.9"/>
<path d="M271.8,576.8Q359.0,566.6 444.5,553.3"/>
<path d="M271.8,576.8Q359.6,590.2 448.3,600.1"/>
<path d="M271.8,576.8Q359.2,598.0 443.8,615.5"/>
<path d="M271.8,576.8Q353.1,602.1 437.5,630.1"/>
<path d="M271.8,576.8Q350.5,611.6 427.8,642.9"/>
<path d="M271.8,576.8Q344.8,616.1 416.6,653.3"/>
<path d="M274.8,607.8Q324.0,549.8 372.7,495.5"/>
<path d="M274.8,607.8Q330.4,555.3 388.2,499.5"/>
<path d="M274.8,607.8Q338.2,555.7 403.1,506.5"/>
<path d="M274.8,607.8Q346.2,562.4 416.6,515.5"/>
<path d="M274.8,607.8Q349.4,566.8 427.4,525.6"/>
<path d="M274.8,607.8Q355.7,571.7 437.4,537.9"/>
<path d="M274.8,607.8Q360.7,587.9 448.2,568.4"/>
<path d="M274.8,607.8Q355.1,617.9 437.5,630.1"/>
<path d="M274.8,607.8Q344.9,628.6 416.6,653.3"/>
<path d="M275.6,560.4Q338.4,534.1 403.1,506.5"/>
<path d="M275.6,560.4Q349.6,542.4 427.4,525.6"/>
<path d="M275.6,560.4Q357.2,547.9 437.4,537.9"/>
<path d="M275.6,560.4Q357.8,594.2 437.5,630.1"/>
<path d="M275.6,560.4Q352.7,600.8 427.8,642.9"/>
<path d="M437.5,630.1Q355.3,594.1 275.6,560.4"/>
<path d="M437.5,630.1Q360.0,589.7 281.1,545.7"/>
<path d="M437.5,630.1Q362.7,580.1 288.7,532.3"/>
<path d="M437.5,630.1Q373.2,568.7 312.5,510.9"/>
<path d="M437.5,630.1Q383.5,568.0 326.3,502.9"/>
<path d="M437.5,630.1Q411.6,566.5 388.2,499.5"/>
<path d="M437.5,630.1Q427.7,572.3 416.6,515.5"/>
<path d="M427.8,642.9Q351.0,600.3 275.6,560.4"/>
<path d="M427.8,642.9Q353.6,593.7 281.1,545.7"/>
<path d="M427.8,642.9Q365.5,580.3 299.4,520.1"/>
<path d="M427.8,642.9Q371.4,578.2 312.5,510.9"/>
<path d="M427.8,642.9Q375.2,572.8 326.3,502.9"/>
<path d="M427.8,642.9Q386.3,569.3 341.5,498.1"/>
<path d="M427.8,642.9Q394.4,567.5 357.8,495.9"/>
<path d="M427.8,642.9Q401.5,570.3 372.7,495.5"/>
<path d="M427.8,642.9Q406.1,569.5 388.2,499.5"/>
<path d="M427.8,642.9Q423.2,580.8 416.6,515.5"/>
<path d="M416.6,653.3Q345.2,608.7 275.6,560.4"/>
<path d="M416.6,653.3Q353.5,592.1 288.7,532.3"/>
<path d="M416.6,653.3Q356.0,587.7 299.4,520.1"/>
<path d="M416.6,653.3Q386.1,574.5 357.8,495.9"/>
<path d="M416.6,653.3Q408.9,579.6 403.1,506.5"/>
<path d="M416.6,653.3Q418.3,583.1 416.6,515.5"/>
<path d="M402.9,661.8Q363.9,581.8 326.3,502.9"/>
<path d="M402.9,661.8Q379.1,579.9 357.8,495.9"/>
<path d="M402.9,661.8Q386.1,576.8 372.7,495.5"/>
<path d="M402.9,661.8Q394.9,582.6 388.2,499.5"/>
<path d="M388.4,668.6Q330.3,612.9 275.6,560.4"/>
<path d="M388.4,668.6Q335.6,606.9 281.1,545.7"/>
<path d="M388.4,668.6Q338.2,600.9 288.7,532.3"/>
<path d="M388.4,668.6Q374.5,581.4 357.8,495.9"/>
<path d="M388.4,668.6Q380.0,583.0 372.7,495.5"/>
<path d="M388.4,668.6Q387.3,583.0 388.2,499.5"/>
<path d="M388.4,668.6Q397.3,587.9 403.1,506.5"/>
<path d="M388.4,668.6Q402.1,594.0 416.6,515.5"/>
<path d="M403.1,506.5Q421.5,568.9 437.5,630.1"/>
<path d="M403.1,506.5Q409.7,581.2 416.6,653.3"/>
<path d="M416.6,515.5Q429.4,564.0 443.8,615.5"/>
<path d="M416.6,515.5Q428.9,573.1 437.5,630.1"/>
<path d="M427.4,525.6Q436.7,572.3 443.8,615.5"/>
<path d="M427.4,525.6Q432.8,578.3 437.5,630.1"/>
<path d="M427.4,525.6Q427.1,582.8 427.8,642.9"/>
<path d="M427.4,525.6Q421.0,589.8 416.6,653.3"/>
<path d="M427.4,525.6Q405.9,596.4 388.4,668.6"/>
<path d="M437.4,537.9Q436.7,582.8 437.5,630.1"/>
<path d="M437.4,537.9Q418.6,599.4 402.9,661.8"/>
<path d="M444.5,553.3Q439.7,592.5 437.5,630.1"/>
<path d="M444.5,553.3Q429.8,605.1 416.6,653.3"/>
<path d="M448.2,568.4Q419.2,617.3 388.4,668.6"/>
<path d="M449.5,584.4Q448.3,599.6 443.8,615.5"/>
<path d="M449.5,584.4Q417.0,626.7 388.4,668.6"/>
<path d="M416.6,653.3Q410.2,658.2 402.9,661.8"/>
<path d="M416.6,653.3Q408.7,656.0 402.9,661.8"/>
<path d="M402.9,661.8Q396.0,665.9 388.4,668.6"/>
<path d="M402.9,661.8Q394.9,663.4 388.4,668.6"/>
<path d="M388.4,668.6Q380.8,670.9 372.8,671.5"/>
<path d="M388.4,668.6Q380.2,668.3 372.8,671.5"/>
<path d="M372.8,671.5Q364.7,673.3 356.5,672.3"/>
<path d="M372.8,671.5Q364.6,670.7 356.5,672.3"/>
<path d="M356.5,672.3Q348.5,672.1 340.5,670.8"/>
<path d="M356.5,672.3Q348.8,669.5 340.5,670.8"/>
<path d="M340.5,670.8Q333.2,668.1 325.6,666.0"/>
<path d="M340.5,670.8Q334.0,665.5 325.6,666.0"/>
<path d="M325.6,666.0Q318.8,662.0 311.9,658.3"/>
<path d="M325.6,666.0Q320.1,659.6 311.9,658.3"/>
<path d="M311.9,658.3Q305.9,653.6 299.9,648.8"/>
<path d="M311.9,658.3Q307.5,651.5 299.9,648.8"/>
<path d="M299.9,648.8Q294.3,642.5 288.6,636.3"/>
<path d="M299.9,648.8Q296.3,640.7 288.6,636.3"/>
<path d="M288.6,636.3Q284.9,629.3 280.5,622.7"/>
<path d="M288.6,636.3Q287.2,627.9 280.5,622.7"/>
<path d="M280.5,622.7Q278.2,615.1 274.8,607.8"/>
<path d="M280.5,622.7Q280.7,614.1 274.8,607.8"/>
<path d="M274.8,607.8Q273.8,599.8 272.4,592.0"/>
<path d="M324.8,629.1Q298.6,610.5 272.4,592.0"/>
<path d="M324.8,629.1Q302.6,625.9 280.5,622.7"/>
<path d="M324.8,629.1Q356.6,648.9 388.4,668.6"/>
<path d="M321.6,640.1Q298.2,624.0 274.8,607.8"/>
<path d="M321.6,640.1Q301.1,631.4 280.5,622.7"/>
<path d="M321.6,640.1Q369.1,646.7 416.6,653.3"/>
<path d="M321.6,640.1Q355.0,654.4 388.4,668.6"/>
<path d="M359.8,645.5Q315.8,611.1 271.8,576.8"/>
<path d="M359.8,645.5Q317.3,626.6 274.8,607.8"/>
<path d="M359.8,645.5Q316.1,618.8 272.4,592.0"/>
<path d="M359.8,645.5Q320.1,634.1 280.5,622.7"/>
<path d="M359.8,645.5Q388.2,649.4 416.6,653.3"/>
<path d="M359.8,645.5Q381.4,653.6 402.9,661.8"/>
<path d="M359.8,659.5Q315.8,618.1 271.8,576.8"/>
<path d="M359.8,659.5Q317.3,633.6 274.8,607.8"/>
<path d="M359.8,659.5Q320.1,641.1 280.5,622.7"/>
<path d="M359.8,659.5Q381.4,660.6 402.9,661.8"/>
</g>
<circle cx="272.40" cy="592.00" r="2.5" fill="#FCA34C" stroke="none" stroke-width="0"/>
<circle cx="271.80" cy="576.80" r="4.6" fill="#C4122B" stroke="none" stroke-width="0"/>
<circle cx="275.60" cy="560.40" r="3.0" fill="#FDB45E" stroke="none" stroke-width="0"/>
<circle cx="281.10" cy="545.70" r="3.0" fill="#FCA043" stroke="none" stroke-width="0"/>
<circle cx="288.70" cy="532.30" r="3.0" fill="#FDB85A" stroke="none" stroke-width="0"/>
<circle cx="299.40" cy="520.10" r="3.3" fill="#FC9F3E" stroke="none" stroke-width="0"/>
<circle cx="312.50" cy="510.90" r="3.5" fill="#FB983C" stroke="none" stroke-width="0"/>
<circle cx="326.30" cy="502.90" r="4.0" fill="#EC6428" stroke="none" stroke-width="0"/>
<circle cx="341.50" cy="498.10" r="3.5" fill="#F7913A" stroke="none" stroke-width="0"/>
<circle cx="357.80" cy="495.90" r="4.0" fill="#F48236" stroke="none" stroke-width="0"/>
<circle cx="372.70" cy="495.50" r="3.5" fill="#F58A38" stroke="none" stroke-width="0"/>
<circle cx="388.20" cy="499.50" r="3.6" fill="#F07A30" stroke="none" stroke-width="0"/>
<circle cx="403.10" cy="506.50" r="3.0" fill="#FCAA50" stroke="none" stroke-width="0"/>
<circle cx="416.60" cy="515.50" r="4.6" fill="#D02A28" stroke="none" stroke-width="0"/>
<circle cx="427.40" cy="525.60" r="2.6" fill="#FDC060" stroke="none" stroke-width="0"/>
<circle cx="437.40" cy="537.90" r="4.1" fill="#E8602A" stroke="none" stroke-width="0"/>
<circle cx="444.50" cy="553.30" r="3.1" fill="#FBA048" stroke="none" stroke-width="0"/>
<circle cx="448.20" cy="568.40" r="3.0" fill="#FDB25A" stroke="none" stroke-width="0"/>
<circle cx="449.50" cy="584.40" r="2.1" fill="#FED580" stroke="none" stroke-width="0"/>
<circle cx="448.30" cy="600.10" r="2.1" fill="#FEDD8A" stroke="none" stroke-width="0"/>
<circle cx="443.80" cy="615.50" r="2.2" fill="#FEE092" stroke="none" stroke-width="0"/>
<circle cx="437.50" cy="630.10" r="2.8" fill="#FDC46C" stroke="none" stroke-width="0"/>
<circle cx="427.80" cy="642.90" r="3.8" fill="#F28034" stroke="none" stroke-width="0"/>
<circle cx="416.60" cy="653.30" r="2.8" fill="#FDBA60" stroke="none" stroke-width="0"/>
<circle cx="402.90" cy="661.80" r="2.6" fill="#FDC068" stroke="none" stroke-width="0"/>
<circle cx="388.40" cy="668.60" r="2.8" fill="#FBAA4E" stroke="none" stroke-width="0"/>
<circle cx="372.80" cy="671.50" r="2.5" fill="#FED888" stroke="none" stroke-width="0"/>
<circle cx="356.50" cy="672.30" r="2.2" fill="#FEE09A" stroke="none" stroke-width="0"/>
<circle cx="340.50" cy="670.80" r="2.3" fill="#FEDC90" stroke="none" stroke-width="0"/>
<circle cx="325.60" cy="666.00" r="2.3" fill="#FEDB8E" stroke="none" stroke-width="0"/>
<circle cx="311.90" cy="658.30" r="2.3" fill="#FED98A" stroke="none" stroke-width="0"/>
<circle cx="299.90" cy="648.80" r="2.4" fill="#FDD080" stroke="none" stroke-width="0"/>
<circle cx="288.60" cy="636.30" r="2.4" fill="#FDC56E" stroke="none" stroke-width="0"/>
<circle cx="280.50" cy="622.70" r="2.4" fill="#FDC068" stroke="none" stroke-width="0"/>
<circle cx="274.80" cy="607.80" r="4.4" fill="#C41A2C" stroke="none" stroke-width="0"/>
<circle cx="324.80" cy="629.10" r="2.2" fill="#F2F000" stroke="none" stroke-width="0"/>
<circle cx="321.60" cy="640.10" r="2.1" fill="#FEE6A0" stroke="none" stroke-width="0"/>
<circle cx="359.80" cy="645.50" r="2.0" fill="#FEE6A0" stroke="none" stroke-width="0"/>
<circle cx="359.80" cy="659.50" r="2.0" fill="#FEE6A0" stroke="none" stroke-width="0"/>
<text x="272.40" y="593.30" font-size="4.0" text-anchor="middle" font-weight="bold" font-family='"Liberation Serif", "Times New Roman", serif' fill="#000" stroke="#000" stroke-width="0.08" >PE O-15:2_18:3</text>
<text x="271.80" y="578.10" font-size="4.0" text-anchor="middle" font-weight="bold" font-family='"Liberation Serif", "Times New Roman", serif' fill="#000" stroke="#000" stroke-width="0.08" >SM 27:0;O2/15:1</text>
<text x="275.60" y="561.70" font-size="4.0" text-anchor="middle" font-weight="bold" font-family='"Liberation Serif", "Times New Roman", serif' fill="#000" stroke="#000" stroke-width="0.08" >PC 18:0_22:5</text>
<text x="281.10" y="547.00" font-size="4.0" text-anchor="middle" font-weight="bold" font-family='"Liberation Serif", "Times New Roman", serif' fill="#000" stroke="#000" stroke-width="0.08" >PC 18:0_18:4</text>
<text x="288.70" y="533.60" font-size="4.0" text-anchor="middle" font-weight="bold" font-family='"Liberation Serif", "Times New Roman", serif' fill="#000" stroke="#000" stroke-width="0.08" >SM 19:1;O3/24:0</text>
<text x="299.40" y="521.40" font-size="4.0" text-anchor="middle" font-weight="bold" font-family='"Liberation Serif", "Times New Roman", serif' fill="#000" stroke="#000" stroke-width="0.08" >SM 17:1;O3/23:5</text>
<text x="312.50" y="512.20" font-size="4.0" text-anchor="middle" font-weight="bold" font-family='"Liberation Serif", "Times New Roman", serif' fill="#000" stroke="#000" stroke-width="0.08" >SM 19:1;O3/24:1</text>
<text x="326.30" y="504.20" font-size="4.0" text-anchor="middle" font-weight="bold" font-family='"Liberation Serif", "Times New Roman", serif' fill="#000" stroke="#000" stroke-width="0.08" >PC O-18:2_18:0</text>
<text x="341.50" y="499.40" font-size="4.0" text-anchor="middle" font-weight="bold" font-family='"Liberation Serif", "Times New Roman", serif' fill="#000" stroke="#000" stroke-width="0.08" >SM 19:1;O3/24:0</text>
<text x="357.80" y="497.20" font-size="4.0" text-anchor="middle" font-weight="bold" font-family='"Liberation Serif", "Times New Roman", serif' fill="#000" stroke="#000" stroke-width="0.08" >SM 18:1;O3/21:0</text>
<text x="372.70" y="496.80" font-size="4.0" text-anchor="middle" font-weight="bold" font-family='"Liberation Serif", "Times New Roman", serif' fill="#000" stroke="#000" stroke-width="0.08" >SM 18:1;O3/24:1</text>
<text x="388.20" y="500.80" font-size="4.0" text-anchor="middle" font-weight="bold" font-family='"Liberation Serif", "Times New Roman", serif' fill="#000" stroke="#000" stroke-width="0.08" >SM 19:1;O3/16:0</text>
<text x="403.10" y="507.80" font-size="4.0" text-anchor="middle" font-weight="bold" font-family='"Liberation Serif", "Times New Roman", serif' fill="#000" stroke="#000" stroke-width="0.08" >PE 16:0_20:4</text>
<text x="416.60" y="516.80" font-size="4.0" text-anchor="middle" font-weight="bold" font-family='"Liberation Serif", "Times New Roman", serif' fill="#000" stroke="#000" stroke-width="0.08" >PC 17:1_18:1</text>
<text x="427.40" y="526.90" font-size="4.0" text-anchor="middle" font-weight="bold" font-family='"Liberation Serif", "Times New Roman", serif' fill="#000" stroke="#000" stroke-width="0.08" >SM 18:1;O3/14:0</text>
<text x="437.40" y="539.20" font-size="4.0" text-anchor="middle" font-weight="bold" font-family='"Liberation Serif", "Times New Roman", serif' fill="#000" stroke="#000" stroke-width="0.08" >SM 16:1;O3/22:0</text>
<text x="444.50" y="554.60" font-size="4.0" text-anchor="middle" font-weight="bold" font-family='"Liberation Serif", "Times New Roman", serif' fill="#000" stroke="#000" stroke-width="0.08" >PE 18:2_18:2</text>
<text x="448.20" y="569.70" font-size="4.0" text-anchor="middle" font-weight="bold" font-family='"Liberation Serif", "Times New Roman", serif' fill="#000" stroke="#000" stroke-width="0.08" >EPE 18:1;O3_18:2/18:2</text>
<text x="449.50" y="585.70" font-size="4.0" text-anchor="middle" font-weight="bold" font-family='"Liberation Serif", "Times New Roman", serif' fill="#000" stroke="#000" stroke-width="0.08" >PE 16:0_20:4</text>
<text x="448.30" y="601.40" font-size="4.0" text-anchor="middle" font-weight="bold" font-family='"Liberation Serif", "Times New Roman", serif' fill="#000" stroke="#000" stroke-width="0.08" >FA 16:0(2OH)</text>
<text x="443.80" y="616.80" font-size="4.0" text-anchor="middle" font-weight="bold" font-family='"Liberation Serif", "Times New Roman", serif' fill="#000" stroke="#000" stroke-width="0.08" >PA 18:2</text>
<text x="437.50" y="631.40" font-size="4.0" text-anchor="middle" font-weight="bold" font-family='"Liberation Serif", "Times New Roman", serif' fill="#000" stroke="#000" stroke-width="0.08" >PC 15:1_18:2_18:0</text>
<text x="427.80" y="644.20" font-size="4.0" text-anchor="middle" font-weight="bold" font-family='"Liberation Serif", "Times New Roman", serif' fill="#000" stroke="#000" stroke-width="0.08" >PC 18:1_18:1</text>
<text x="416.60" y="654.60" font-size="4.0" text-anchor="middle" font-weight="bold" font-family='"Liberation Serif", "Times New Roman", serif' fill="#000" stroke="#000" stroke-width="0.08" >SM 18:1;O3/24:0</text>
<text x="402.90" y="663.10" font-size="4.0" text-anchor="middle" font-weight="bold" font-family='"Liberation Serif", "Times New Roman", serif' fill="#000" stroke="#000" stroke-width="0.08" >PC 16:0_18:1</text>
<text x="388.40" y="669.90" font-size="4.0" text-anchor="middle" font-weight="bold" font-family='"Liberation Serif", "Times New Roman", serif' fill="#000" stroke="#000" stroke-width="0.08" >PG 16:0_16:0</text>
<text x="372.80" y="672.80" font-size="4.0" text-anchor="middle" font-weight="bold" font-family='"Liberation Serif", "Times New Roman", serif' fill="#000" stroke="#000" stroke-width="0.08" >PC 14:0_14:0</text>
<text x="356.50" y="673.60" font-size="4.0" text-anchor="middle" font-weight="bold" font-family='"Liberation Serif", "Times New Roman", serif' fill="#000" stroke="#000" stroke-width="0.08" >PC 18:1_18:2</text>
<text x="340.50" y="672.10" font-size="4.0" text-anchor="middle" font-weight="bold" font-family='"Liberation Serif", "Times New Roman", serif' fill="#000" stroke="#000" stroke-width="0.08" >PC O-18:0_18:2</text>
<text x="325.60" y="667.30" font-size="4.0" text-anchor="middle" font-weight="bold" font-family='"Liberation Serif", "Times New Roman", serif' fill="#000" stroke="#000" stroke-width="0.08" >PC 17:1_18:1</text>
<text x="311.90" y="659.60" font-size="4.0" text-anchor="middle" font-weight="bold" font-family='"Liberation Serif", "Times New Roman", serif' fill="#000" stroke="#000" stroke-width="0.08" >PE O-16:1_18:2</text>
<text x="299.90" y="650.10" font-size="4.0" text-anchor="middle" font-weight="bold" font-family='"Liberation Serif", "Times New Roman", serif' fill="#000" stroke="#000" stroke-width="0.08" >PE 14:0_18:2</text>
<text x="288.60" y="637.60" font-size="4.0" text-anchor="middle" font-weight="bold" font-family='"Liberation Serif", "Times New Roman", serif' fill="#000" stroke="#000" stroke-width="0.08" >PE 18:2_18:4;O2</text>
<text x="280.50" y="624.00" font-size="4.0" text-anchor="middle" font-weight="bold" font-family='"Liberation Serif", "Times New Roman", serif' fill="#000" stroke="#000" stroke-width="0.08" >SM 27:0;O2/15:1</text>
<text x="274.80" y="609.10" font-size="4.0" text-anchor="middle" font-weight="bold" font-family='"Liberation Serif", "Times New Roman", serif' fill="#000" stroke="#000" stroke-width="0.08" >SM 17:1;O3/24:0</text>
<text x="324.80" y="630.40" font-size="4.0" text-anchor="middle" font-weight="bold" font-family='"Liberation Serif", "Times New Roman", serif' fill="#000" stroke="#000" stroke-width="0.08" >TG 16:0_18:2_13:0;O2</text>
<text x="321.60" y="641.40" font-size="4.0" text-anchor="middle" font-weight="bold" font-family='"Liberation Serif", "Times New Roman", serif' fill="#000" stroke="#000" stroke-width="0.08" >PC 18:0_18:0</text>
<text x="359.80" y="646.80" font-size="4.0" text-anchor="middle" font-weight="bold" font-family='"Liberation Serif", "Times New Roman", serif' fill="#000" stroke="#000" stroke-width="0.08" >TG 17:1_18:1_18:2</text>
<text x="359.80" y="660.80" font-size="4.0" text-anchor="middle" font-weight="bold" font-family='"Liberation Serif", "Times New Roman", serif' fill="#000" stroke="#000" stroke-width="0.08" >TG 17:1_18:2_18:2</text>
<text x="463.70" y="575.00" font-size="5.15" text-anchor="start" font-weight="bold" font-family='"Liberation Serif", "Times New Roman", serif' fill="#000" stroke="#000" stroke-width="0.12" >Node size mapping</text>
<circle cx="469.20" cy="581.30" r="2.1" fill="none" stroke="#222" stroke-width="0.7"/>
<circle cx="469.20" cy="591.20" r="3.1" fill="none" stroke="#222" stroke-width="0.7"/>
<circle cx="469.20" cy="603.70" r="5.2" fill="none" stroke="#222" stroke-width="0.7"/>
<text x="477.90" y="583.10" font-size="5.15" text-anchor="start" font-weight="bold" font-family='"Liberation Serif", "Times New Roman", serif' fill="#000" stroke="#000" stroke-width="0.12" >0.002</text>
<text x="477.90" y="593.00" font-size="5.15" text-anchor="start" font-weight="bold" font-family='"Liberation Serif", "Times New Roman", serif' fill="#000" stroke="#000" stroke-width="0.12" >0.006</text>
<text x="477.90" y="605.50" font-size="5.15" text-anchor="start" font-weight="bold" font-family='"Liberation Serif", "Times New Roman", serif' fill="#000" stroke="#000" stroke-width="0.12" >0.013</text>
<text x="463.30" y="618.50" font-size="5.15" text-anchor="start" font-weight="bold" font-family='"Liberation Serif", "Times New Roman", serif' fill="#000" stroke="#000" stroke-width="0.12" >Node fill color mapping</text>
<rect x="463.70" y="620.30" width="7.80" height="57.90" fill="url(#gE)" />
<text x="475.50" y="625.10" font-size="5.15" text-anchor="start" font-weight="bold" font-family='"Liberation Serif", "Times New Roman", serif' fill="#000" stroke="#000" stroke-width="0.12" >0.002</text>
<text x="475.50" y="651.10" font-size="5.15" text-anchor="start" font-weight="bold" font-family='"Liberation Serif", "Times New Roman", serif' fill="#000" stroke="#000" stroke-width="0.12" >0.006</text>
<text x="475.50" y="676.40" font-size="5.15" text-anchor="start" font-weight="bold" font-family='"Liberation Serif", "Times New Roman", serif' fill="#000" stroke="#000" stroke-width="0.12" >0</text>
</svg></body></html>
